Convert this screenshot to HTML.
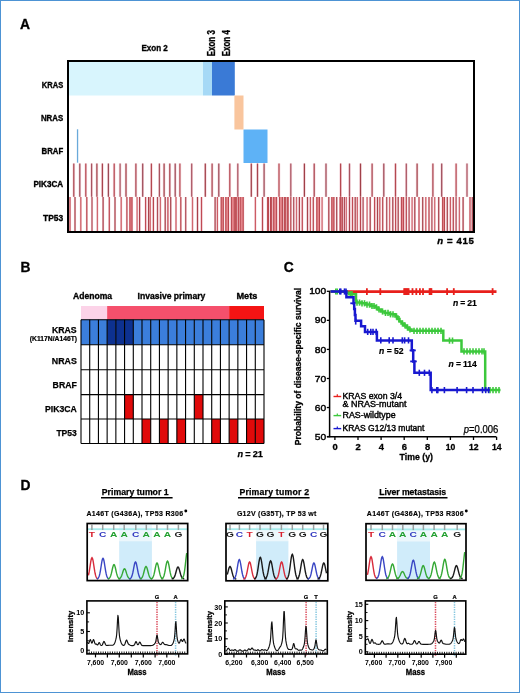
<!DOCTYPE html>
<html><head><meta charset="utf-8"><title>Figure</title>
<style>
html,body{margin:0;padding:0;background:#fff;}
body{width:520px;height:693px;overflow:hidden;}
.fig{position:relative;width:520px;height:693px;box-sizing:border-box;border:1px solid #4d93d4;background:#fff;}
svg{position:absolute;left:-1px;top:-1px;}
svg text{font-family:'Liberation Sans', Arial, sans-serif;}
</style></head>
<body><div class="fig">
<svg width="520" height="693" viewBox="0 0 520 693">
<text x="20" y="28.8" font-size="13.9" stroke="#000" stroke-width="0.3" font-weight="bold" >A</text>
<text x="141.4" y="50.6" font-size="9.8" stroke="#000" stroke-width="0.35" font-weight="bold" textLength="26.4" lengthAdjust="spacingAndGlyphs" >Exon 2</text>
<text transform="translate(214.5,56.3) rotate(-90)" x="0" y="0" font-size="10.2" font-weight="bold" stroke="#000" stroke-width="0.3" textLength="26.2" lengthAdjust="spacingAndGlyphs">Exon 3</text>
<text transform="translate(230.0,56.3) rotate(-90)" x="0" y="0" font-size="10.2" font-weight="bold" stroke="#000" stroke-width="0.3" textLength="26.2" lengthAdjust="spacingAndGlyphs">Exon 4</text>
<text x="41.8" y="88.2" font-size="9.2" stroke="#000" stroke-width="0.35" font-weight="bold" textLength="21.4" lengthAdjust="spacingAndGlyphs" >KRAS</text>
<text x="40.9" y="121" font-size="9.2" stroke="#000" stroke-width="0.35" font-weight="bold" textLength="22.3" lengthAdjust="spacingAndGlyphs" >NRAS</text>
<text x="41.6" y="153.7" font-size="9.2" stroke="#000" stroke-width="0.35" font-weight="bold" textLength="21.6" lengthAdjust="spacingAndGlyphs" >BRAF</text>
<text x="33.4" y="187.4" font-size="9.2" stroke="#000" stroke-width="0.35" font-weight="bold" textLength="29.8" lengthAdjust="spacingAndGlyphs" >PIK3CA</text>
<text x="43.1" y="220.7" font-size="9.2" stroke="#000" stroke-width="0.35" font-weight="bold" textLength="20.1" lengthAdjust="spacingAndGlyphs" >TP53</text>
<rect x="69.00" y="62.00" width="134.00" height="33.50" fill="#d8f5fd" />
<rect x="203.00" y="62.00" width="9.00" height="33.50" fill="#a6d9f6" />
<rect x="212.00" y="62.00" width="22.80" height="33.50" fill="#3a7ad6" />
<rect x="234.40" y="95.50" width="9.10" height="34.00" fill="#f9c59d" />
<rect x="243.50" y="129.50" width="24.00" height="33.50" fill="#5eb2f6" />
<rect x="76.90" y="129.30" width="1.30" height="33.40" fill="#6aaada" />
<rect x="72.50" y="163.50" width="2.60" height="33.30" fill="#f6d6dc" />
<rect x="78.50" y="163.50" width="2.60" height="33.30" fill="#f6d6dc" />
<rect x="84.50" y="163.50" width="2.60" height="33.30" fill="#f6d6dc" />
<rect x="90.30" y="163.50" width="2.60" height="33.30" fill="#f6d6dc" />
<rect x="95.60" y="163.50" width="2.60" height="33.30" fill="#f6d6dc" />
<rect x="101.10" y="163.50" width="2.60" height="33.30" fill="#f6d6dc" />
<rect x="107.10" y="163.50" width="2.60" height="33.30" fill="#f6d6dc" />
<rect x="112.90" y="163.50" width="2.60" height="33.30" fill="#f6d6dc" />
<rect x="118.80" y="163.50" width="2.60" height="33.30" fill="#f6d6dc" />
<rect x="124.70" y="163.50" width="2.60" height="33.30" fill="#f6d6dc" />
<rect x="134.60" y="163.50" width="2.60" height="33.30" fill="#f6d6dc" />
<rect x="141.40" y="163.50" width="2.60" height="33.30" fill="#f6d6dc" />
<rect x="150.10" y="163.50" width="2.60" height="33.30" fill="#f6d6dc" />
<rect x="158.10" y="163.50" width="2.60" height="33.30" fill="#f6d6dc" />
<rect x="162.80" y="163.50" width="2.60" height="33.30" fill="#f6d6dc" />
<rect x="168.50" y="163.50" width="2.60" height="33.30" fill="#f6d6dc" />
<rect x="173.90" y="163.50" width="2.60" height="33.30" fill="#f6d6dc" />
<rect x="178.60" y="163.50" width="2.60" height="33.30" fill="#f6d6dc" />
<rect x="190.40" y="163.50" width="2.60" height="33.30" fill="#f6d6dc" />
<rect x="204.00" y="163.50" width="2.60" height="33.30" fill="#f6d6dc" />
<rect x="210.80" y="163.50" width="2.60" height="33.30" fill="#f6d6dc" />
<rect x="217.50" y="163.50" width="2.60" height="33.30" fill="#f6d6dc" />
<rect x="228.50" y="163.50" width="2.60" height="33.30" fill="#f6d6dc" />
<rect x="236.50" y="163.50" width="2.60" height="33.30" fill="#f6d6dc" />
<rect x="250.00" y="163.50" width="2.60" height="33.30" fill="#f6d6dc" />
<rect x="256.20" y="163.50" width="2.60" height="33.30" fill="#f6d6dc" />
<rect x="262.80" y="163.50" width="2.60" height="33.30" fill="#f6d6dc" />
<rect x="277.70" y="163.50" width="2.60" height="33.30" fill="#f6d6dc" />
<rect x="289.50" y="163.50" width="2.60" height="33.30" fill="#f6d6dc" />
<rect x="303.10" y="163.50" width="2.60" height="33.30" fill="#f6d6dc" />
<rect x="312.90" y="163.50" width="2.60" height="33.30" fill="#f6d6dc" />
<rect x="324.70" y="163.50" width="2.60" height="33.30" fill="#f6d6dc" />
<rect x="339.30" y="163.50" width="2.60" height="33.30" fill="#f6d6dc" />
<rect x="348.20" y="163.50" width="2.60" height="33.30" fill="#f6d6dc" />
<rect x="359.20" y="163.50" width="2.60" height="33.30" fill="#f6d6dc" />
<rect x="370.80" y="163.50" width="2.60" height="33.30" fill="#f6d6dc" />
<rect x="382.50" y="163.50" width="2.60" height="33.30" fill="#f6d6dc" />
<rect x="394.20" y="163.50" width="2.60" height="33.30" fill="#f6d6dc" />
<rect x="405.00" y="163.50" width="2.60" height="33.30" fill="#f6d6dc" />
<rect x="415.80" y="163.50" width="2.60" height="33.30" fill="#f6d6dc" />
<rect x="431.60" y="163.50" width="2.60" height="33.30" fill="#f6d6dc" />
<rect x="440.40" y="163.50" width="2.60" height="33.30" fill="#f6d6dc" />
<rect x="454.80" y="163.50" width="2.60" height="33.30" fill="#f6d6dc" />
<rect x="465.70" y="163.50" width="2.60" height="33.30" fill="#f6d6dc" />
<rect x="73.20" y="163.50" width="1.20" height="33.30" fill="#a8444e" />
<rect x="79.20" y="163.50" width="1.20" height="33.30" fill="#9c4a56" />
<rect x="85.20" y="163.50" width="1.20" height="33.30" fill="#b44850" />
<rect x="91.00" y="163.50" width="1.20" height="33.30" fill="#a85460" />
<rect x="96.30" y="163.50" width="1.20" height="33.30" fill="#a04048" />
<rect x="101.80" y="163.50" width="1.20" height="33.30" fill="#a8444e" />
<rect x="107.80" y="163.50" width="1.20" height="33.30" fill="#9c4a56" />
<rect x="113.60" y="163.50" width="1.20" height="33.30" fill="#b44850" />
<rect x="119.50" y="163.50" width="1.20" height="33.30" fill="#a85460" />
<rect x="125.40" y="163.50" width="1.20" height="33.30" fill="#a04048" />
<rect x="135.30" y="163.50" width="1.20" height="33.30" fill="#a8444e" />
<rect x="142.10" y="163.50" width="1.20" height="33.30" fill="#9c4a56" />
<rect x="150.80" y="163.50" width="1.20" height="33.30" fill="#b44850" />
<rect x="158.80" y="163.50" width="1.20" height="33.30" fill="#a85460" />
<rect x="163.50" y="163.50" width="1.20" height="33.30" fill="#a04048" />
<rect x="169.20" y="163.50" width="1.20" height="33.30" fill="#a8444e" />
<rect x="174.60" y="163.50" width="1.20" height="33.30" fill="#9c4a56" />
<rect x="179.30" y="163.50" width="1.20" height="33.30" fill="#b44850" />
<rect x="191.10" y="163.50" width="1.20" height="33.30" fill="#a85460" />
<rect x="204.70" y="163.50" width="1.20" height="33.30" fill="#a04048" />
<rect x="211.50" y="163.50" width="1.20" height="33.30" fill="#a8444e" />
<rect x="218.20" y="163.50" width="1.20" height="33.30" fill="#9c4a56" />
<rect x="229.20" y="163.50" width="1.20" height="33.30" fill="#b44850" />
<rect x="237.20" y="163.50" width="1.20" height="33.30" fill="#a85460" />
<rect x="250.70" y="163.50" width="1.20" height="33.30" fill="#a04048" />
<rect x="256.90" y="163.50" width="1.20" height="33.30" fill="#a8444e" />
<rect x="263.50" y="163.50" width="1.20" height="33.30" fill="#9c4a56" />
<rect x="278.40" y="163.50" width="1.20" height="33.30" fill="#b44850" />
<rect x="290.20" y="163.50" width="1.20" height="33.30" fill="#a85460" />
<rect x="303.80" y="163.50" width="1.20" height="33.30" fill="#a04048" />
<rect x="313.60" y="163.50" width="1.20" height="33.30" fill="#a8444e" />
<rect x="325.40" y="163.50" width="1.20" height="33.30" fill="#9c4a56" />
<rect x="340.00" y="163.50" width="1.20" height="33.30" fill="#b44850" />
<rect x="348.90" y="163.50" width="1.20" height="33.30" fill="#a85460" />
<rect x="359.90" y="163.50" width="1.20" height="33.30" fill="#a04048" />
<rect x="371.50" y="163.50" width="1.20" height="33.30" fill="#a8444e" />
<rect x="383.20" y="163.50" width="1.20" height="33.30" fill="#9c4a56" />
<rect x="394.90" y="163.50" width="1.20" height="33.30" fill="#b44850" />
<rect x="405.70" y="163.50" width="1.20" height="33.30" fill="#a85460" />
<rect x="416.50" y="163.50" width="1.20" height="33.30" fill="#a04048" />
<rect x="432.30" y="163.50" width="1.20" height="33.30" fill="#a8444e" />
<rect x="441.10" y="163.50" width="1.20" height="33.30" fill="#9c4a56" />
<rect x="455.50" y="163.50" width="1.20" height="33.30" fill="#b44850" />
<rect x="466.40" y="163.50" width="1.20" height="33.30" fill="#a85460" />
<rect x="68.90" y="197.00" width="2.20" height="34.50" fill="#f6d6dc" />
<rect x="73.90" y="197.00" width="2.20" height="34.50" fill="#f6d6dc" />
<rect x="79.70" y="197.00" width="2.20" height="34.50" fill="#f6d6dc" />
<rect x="85.70" y="197.00" width="2.20" height="34.50" fill="#f6d6dc" />
<rect x="90.90" y="197.00" width="2.20" height="34.50" fill="#f6d6dc" />
<rect x="96.30" y="197.00" width="2.20" height="34.50" fill="#f6d6dc" />
<rect x="102.00" y="197.00" width="2.20" height="34.50" fill="#f6d6dc" />
<rect x="108.20" y="197.00" width="2.20" height="34.50" fill="#f6d6dc" />
<rect x="113.90" y="197.00" width="2.20" height="34.50" fill="#f6d6dc" />
<rect x="120.10" y="197.00" width="2.20" height="34.50" fill="#f6d6dc" />
<rect x="125.80" y="197.00" width="2.20" height="34.50" fill="#f6d6dc" />
<rect x="128.80" y="197.00" width="4.30" height="34.50" fill="#f6d6dc" />
<rect x="136.00" y="197.00" width="2.20" height="34.50" fill="#f6d6dc" />
<rect x="138.50" y="197.00" width="2.20" height="34.50" fill="#f6d6dc" />
<rect x="144.50" y="197.00" width="2.20" height="34.50" fill="#f6d6dc" />
<rect x="147.50" y="197.00" width="2.20" height="34.50" fill="#f6d6dc" />
<rect x="149.10" y="197.00" width="2.20" height="34.50" fill="#f6d6dc" />
<rect x="152.30" y="197.00" width="2.20" height="34.50" fill="#f6d6dc" />
<rect x="156.40" y="197.00" width="2.20" height="34.50" fill="#f6d6dc" />
<rect x="159.30" y="197.00" width="2.20" height="34.50" fill="#f6d6dc" />
<rect x="164.10" y="197.00" width="2.20" height="34.50" fill="#f6d6dc" />
<rect x="166.80" y="197.00" width="2.20" height="34.50" fill="#f6d6dc" />
<rect x="169.60" y="197.00" width="2.20" height="34.50" fill="#f6d6dc" />
<rect x="174.90" y="197.00" width="2.20" height="34.50" fill="#f6d6dc" />
<rect x="179.70" y="197.00" width="2.20" height="34.50" fill="#f6d6dc" />
<rect x="184.60" y="197.00" width="2.20" height="34.50" fill="#f6d6dc" />
<rect x="191.40" y="197.00" width="2.20" height="34.50" fill="#f6d6dc" />
<rect x="196.40" y="197.00" width="2.20" height="34.50" fill="#f6d6dc" />
<rect x="200.40" y="197.00" width="2.20" height="34.50" fill="#f6d6dc" />
<rect x="214.00" y="197.00" width="2.20" height="34.50" fill="#f6d6dc" />
<rect x="216.30" y="197.00" width="2.20" height="34.50" fill="#f6d6dc" />
<rect x="220.10" y="197.00" width="4.30" height="34.50" fill="#f6d6dc" />
<rect x="224.70" y="197.00" width="4.90" height="34.50" fill="#f6d6dc" />
<rect x="230.30" y="197.00" width="5.10" height="34.50" fill="#f6d6dc" />
<rect x="234.20" y="197.00" width="3.70" height="34.50" fill="#f6d6dc" />
<rect x="237.50" y="197.00" width="2.20" height="34.50" fill="#f6d6dc" />
<rect x="239.10" y="197.00" width="5.20" height="34.50" fill="#f6d6dc" />
<rect x="254.30" y="197.00" width="2.20" height="34.50" fill="#f6d6dc" />
<rect x="261.40" y="197.00" width="2.20" height="34.50" fill="#f6d6dc" />
<rect x="266.50" y="197.00" width="3.10" height="34.50" fill="#f6d6dc" />
<rect x="269.40" y="197.00" width="3.40" height="34.50" fill="#f6d6dc" />
<rect x="272.60" y="197.00" width="5.10" height="34.50" fill="#f6d6dc" />
<rect x="278.40" y="197.00" width="5.10" height="34.50" fill="#f6d6dc" />
<rect x="283.20" y="197.00" width="3.20" height="34.50" fill="#f6d6dc" />
<rect x="286.10" y="197.00" width="3.10" height="34.50" fill="#f6d6dc" />
<rect x="289.70" y="197.00" width="2.20" height="34.50" fill="#f6d6dc" />
<rect x="292.60" y="197.00" width="2.20" height="34.50" fill="#f6d6dc" />
<rect x="295.40" y="197.00" width="2.20" height="34.50" fill="#f6d6dc" />
<rect x="298.30" y="197.00" width="2.20" height="34.50" fill="#f6d6dc" />
<rect x="301.20" y="197.00" width="2.20" height="34.50" fill="#f6d6dc" />
<rect x="306.40" y="197.00" width="2.20" height="34.50" fill="#f6d6dc" />
<rect x="309.30" y="197.00" width="2.20" height="34.50" fill="#f6d6dc" />
<rect x="312.20" y="197.00" width="2.20" height="34.50" fill="#f6d6dc" />
<rect x="315.70" y="197.00" width="4.90" height="34.50" fill="#f6d6dc" />
<rect x="321.00" y="197.00" width="2.20" height="34.50" fill="#f6d6dc" />
<rect x="327.70" y="197.00" width="2.20" height="34.50" fill="#f6d6dc" />
<rect x="330.70" y="197.00" width="4.30" height="34.50" fill="#f6d6dc" />
<rect x="335.60" y="197.00" width="2.20" height="34.50" fill="#f6d6dc" />
<rect x="339.00" y="197.00" width="3.00" height="34.50" fill="#f6d6dc" />
<rect x="341.20" y="197.00" width="2.20" height="34.50" fill="#f6d6dc" />
<rect x="343.30" y="197.00" width="2.20" height="34.50" fill="#f6d6dc" />
<rect x="345.20" y="197.00" width="2.20" height="34.50" fill="#f6d6dc" />
<rect x="348.40" y="197.00" width="2.20" height="34.50" fill="#f6d6dc" />
<rect x="351.40" y="197.00" width="2.20" height="34.50" fill="#f6d6dc" />
<rect x="354.10" y="197.00" width="2.20" height="34.50" fill="#f6d6dc" />
<rect x="356.20" y="197.00" width="2.20" height="34.50" fill="#f6d6dc" />
<rect x="359.40" y="197.00" width="2.20" height="34.50" fill="#f6d6dc" />
<rect x="362.00" y="197.00" width="2.20" height="34.50" fill="#f6d6dc" />
<rect x="366.00" y="197.00" width="2.20" height="34.50" fill="#f6d6dc" />
<rect x="369.10" y="197.00" width="2.20" height="34.50" fill="#f6d6dc" />
<rect x="373.50" y="197.00" width="2.20" height="34.50" fill="#f6d6dc" />
<rect x="376.40" y="197.00" width="2.20" height="34.50" fill="#f6d6dc" />
<rect x="378.70" y="197.00" width="2.20" height="34.50" fill="#f6d6dc" />
<rect x="381.60" y="197.00" width="2.20" height="34.50" fill="#f6d6dc" />
<rect x="385.60" y="197.00" width="2.20" height="34.50" fill="#f6d6dc" />
<rect x="388.50" y="197.00" width="2.20" height="34.50" fill="#f6d6dc" />
<rect x="391.70" y="197.00" width="2.20" height="34.50" fill="#f6d6dc" />
<rect x="394.50" y="197.00" width="2.20" height="34.50" fill="#f6d6dc" />
<rect x="397.10" y="197.00" width="2.20" height="34.50" fill="#f6d6dc" />
<rect x="400.30" y="197.00" width="4.40" height="34.50" fill="#f6d6dc" />
<rect x="405.20" y="197.00" width="2.20" height="34.50" fill="#f6d6dc" />
<rect x="408.00" y="197.00" width="2.20" height="34.50" fill="#f6d6dc" />
<rect x="411.00" y="197.00" width="2.20" height="34.50" fill="#f6d6dc" />
<rect x="413.70" y="197.00" width="2.20" height="34.50" fill="#f6d6dc" />
<rect x="417.90" y="197.00" width="2.20" height="34.50" fill="#f6d6dc" />
<rect x="421.60" y="197.00" width="2.20" height="34.50" fill="#f6d6dc" />
<rect x="424.70" y="197.00" width="2.20" height="34.50" fill="#f6d6dc" />
<rect x="427.90" y="197.00" width="2.20" height="34.50" fill="#f6d6dc" />
<rect x="430.80" y="197.00" width="2.20" height="34.50" fill="#f6d6dc" />
<rect x="433.60" y="197.00" width="2.20" height="34.50" fill="#f6d6dc" />
<rect x="437.60" y="197.00" width="2.20" height="34.50" fill="#f6d6dc" />
<rect x="441.50" y="197.00" width="4.10" height="34.50" fill="#f6d6dc" />
<rect x="446.20" y="197.00" width="2.20" height="34.50" fill="#f6d6dc" />
<rect x="449.30" y="197.00" width="2.20" height="34.50" fill="#f6d6dc" />
<rect x="452.20" y="197.00" width="2.20" height="34.50" fill="#f6d6dc" />
<rect x="455.00" y="197.00" width="2.20" height="34.50" fill="#f6d6dc" />
<rect x="458.30" y="197.00" width="2.20" height="34.50" fill="#f6d6dc" />
<rect x="462.00" y="197.00" width="2.20" height="34.50" fill="#f6d6dc" />
<rect x="468.90" y="197.00" width="2.20" height="34.50" fill="#f6d6dc" />
<rect x="471.20" y="197.00" width="2.20" height="34.50" fill="#f6d6dc" />
<rect x="69.40" y="197.00" width="1.20" height="34.50" fill="#c04a54" />
<rect x="74.40" y="197.00" width="1.20" height="34.50" fill="#a8444c" />
<rect x="80.20" y="197.00" width="1.20" height="34.50" fill="#cc5c64" />
<rect x="86.20" y="197.00" width="1.20" height="34.50" fill="#b8464e" />
<rect x="91.40" y="197.00" width="1.20" height="34.50" fill="#b04e58" />
<rect x="96.80" y="197.00" width="1.20" height="34.50" fill="#d06870" />
<rect x="102.50" y="197.00" width="1.20" height="34.50" fill="#a8404a" />
<rect x="108.70" y="197.00" width="1.20" height="34.50" fill="#c04a54" />
<rect x="114.40" y="197.00" width="1.20" height="34.50" fill="#a8444c" />
<rect x="120.60" y="197.00" width="1.20" height="34.50" fill="#cc5c64" />
<rect x="126.30" y="197.00" width="1.20" height="34.50" fill="#b8464e" />
<rect x="129.50" y="197.00" width="2.90" height="34.50" fill="#e4868c" />
<rect x="129.40" y="197.00" width="1.00" height="34.50" fill="#b8464e" />
<rect x="131.50" y="197.00" width="1.00" height="34.50" fill="#b8464e" />
<rect x="136.50" y="197.00" width="1.20" height="34.50" fill="#d06870" />
<rect x="139.00" y="197.00" width="1.20" height="34.50" fill="#a8404a" />
<rect x="145.00" y="197.00" width="1.20" height="34.50" fill="#c04a54" />
<rect x="148.00" y="197.00" width="1.20" height="34.50" fill="#a8444c" />
<rect x="149.60" y="197.00" width="1.20" height="34.50" fill="#cc5c64" />
<rect x="152.80" y="197.00" width="1.20" height="34.50" fill="#b8464e" />
<rect x="156.90" y="197.00" width="1.20" height="34.50" fill="#b04e58" />
<rect x="159.80" y="197.00" width="1.20" height="34.50" fill="#d06870" />
<rect x="164.60" y="197.00" width="1.20" height="34.50" fill="#a8404a" />
<rect x="167.30" y="197.00" width="1.20" height="34.50" fill="#c04a54" />
<rect x="170.10" y="197.00" width="1.20" height="34.50" fill="#a8444c" />
<rect x="175.40" y="197.00" width="1.20" height="34.50" fill="#cc5c64" />
<rect x="180.20" y="197.00" width="1.20" height="34.50" fill="#b8464e" />
<rect x="185.10" y="197.00" width="1.20" height="34.50" fill="#b04e58" />
<rect x="191.90" y="197.00" width="1.20" height="34.50" fill="#d06870" />
<rect x="196.90" y="197.00" width="1.20" height="34.50" fill="#a8404a" />
<rect x="200.90" y="197.00" width="1.20" height="34.50" fill="#c04a54" />
<rect x="214.50" y="197.00" width="1.20" height="34.50" fill="#a8444c" />
<rect x="216.80" y="197.00" width="1.20" height="34.50" fill="#cc5c64" />
<rect x="220.80" y="197.00" width="2.90" height="34.50" fill="#e4868c" />
<rect x="220.70" y="197.00" width="1.00" height="34.50" fill="#b8464e" />
<rect x="222.80" y="197.00" width="1.00" height="34.50" fill="#b8464e" />
<rect x="225.40" y="197.00" width="3.50" height="34.50" fill="#e4868c" />
<rect x="225.30" y="197.00" width="1.00" height="34.50" fill="#b8464e" />
<rect x="228.00" y="197.00" width="1.00" height="34.50" fill="#b8464e" />
<rect x="231.00" y="197.00" width="3.70" height="34.50" fill="#e4868c" />
<rect x="230.90" y="197.00" width="1.00" height="34.50" fill="#b8464e" />
<rect x="233.80" y="197.00" width="1.00" height="34.50" fill="#b8464e" />
<rect x="234.90" y="197.00" width="2.30" height="34.50" fill="#e4868c" />
<rect x="234.80" y="197.00" width="1.00" height="34.50" fill="#b8464e" />
<rect x="236.30" y="197.00" width="1.00" height="34.50" fill="#b8464e" />
<rect x="238.00" y="197.00" width="1.20" height="34.50" fill="#c04a54" />
<rect x="239.80" y="197.00" width="3.80" height="34.50" fill="#e4868c" />
<rect x="239.70" y="197.00" width="1.00" height="34.50" fill="#b8464e" />
<rect x="242.70" y="197.00" width="1.00" height="34.50" fill="#b8464e" />
<rect x="254.80" y="197.00" width="1.20" height="34.50" fill="#cc5c64" />
<rect x="261.90" y="197.00" width="1.20" height="34.50" fill="#b8464e" />
<rect x="267.20" y="197.00" width="1.70" height="34.50" fill="#e4868c" />
<rect x="267.10" y="197.00" width="1.00" height="34.50" fill="#b8464e" />
<rect x="268.00" y="197.00" width="1.00" height="34.50" fill="#b8464e" />
<rect x="270.10" y="197.00" width="2.00" height="34.50" fill="#e4868c" />
<rect x="270.00" y="197.00" width="1.00" height="34.50" fill="#b8464e" />
<rect x="271.20" y="197.00" width="1.00" height="34.50" fill="#b8464e" />
<rect x="273.30" y="197.00" width="3.70" height="34.50" fill="#e4868c" />
<rect x="273.20" y="197.00" width="1.00" height="34.50" fill="#b8464e" />
<rect x="276.10" y="197.00" width="1.00" height="34.50" fill="#b8464e" />
<rect x="279.10" y="197.00" width="3.70" height="34.50" fill="#e4868c" />
<rect x="279.00" y="197.00" width="1.00" height="34.50" fill="#b8464e" />
<rect x="281.90" y="197.00" width="1.00" height="34.50" fill="#b8464e" />
<rect x="283.90" y="197.00" width="1.80" height="34.50" fill="#e4868c" />
<rect x="283.80" y="197.00" width="1.00" height="34.50" fill="#b8464e" />
<rect x="284.80" y="197.00" width="1.00" height="34.50" fill="#b8464e" />
<rect x="286.80" y="197.00" width="1.70" height="34.50" fill="#e4868c" />
<rect x="286.70" y="197.00" width="1.00" height="34.50" fill="#b8464e" />
<rect x="287.60" y="197.00" width="1.00" height="34.50" fill="#b8464e" />
<rect x="290.20" y="197.00" width="1.20" height="34.50" fill="#b8464e" />
<rect x="293.10" y="197.00" width="1.20" height="34.50" fill="#b04e58" />
<rect x="295.90" y="197.00" width="1.20" height="34.50" fill="#d06870" />
<rect x="298.80" y="197.00" width="1.20" height="34.50" fill="#a8404a" />
<rect x="301.70" y="197.00" width="1.20" height="34.50" fill="#c04a54" />
<rect x="306.90" y="197.00" width="1.20" height="34.50" fill="#a8444c" />
<rect x="309.80" y="197.00" width="1.20" height="34.50" fill="#cc5c64" />
<rect x="312.70" y="197.00" width="1.20" height="34.50" fill="#b8464e" />
<rect x="316.40" y="197.00" width="3.50" height="34.50" fill="#e4868c" />
<rect x="316.30" y="197.00" width="1.00" height="34.50" fill="#b8464e" />
<rect x="319.00" y="197.00" width="1.00" height="34.50" fill="#b8464e" />
<rect x="321.50" y="197.00" width="1.20" height="34.50" fill="#d06870" />
<rect x="328.20" y="197.00" width="1.20" height="34.50" fill="#a8404a" />
<rect x="331.40" y="197.00" width="2.90" height="34.50" fill="#e4868c" />
<rect x="331.30" y="197.00" width="1.00" height="34.50" fill="#b8464e" />
<rect x="333.40" y="197.00" width="1.00" height="34.50" fill="#b8464e" />
<rect x="336.10" y="197.00" width="1.20" height="34.50" fill="#a8444c" />
<rect x="339.70" y="197.00" width="1.60" height="34.50" fill="#e4868c" />
<rect x="339.60" y="197.00" width="1.00" height="34.50" fill="#b8464e" />
<rect x="340.40" y="197.00" width="1.00" height="34.50" fill="#b8464e" />
<rect x="341.70" y="197.00" width="1.20" height="34.50" fill="#b8464e" />
<rect x="343.80" y="197.00" width="1.20" height="34.50" fill="#b04e58" />
<rect x="345.70" y="197.00" width="1.20" height="34.50" fill="#d06870" />
<rect x="348.90" y="197.00" width="1.20" height="34.50" fill="#a8404a" />
<rect x="351.90" y="197.00" width="1.20" height="34.50" fill="#c04a54" />
<rect x="354.60" y="197.00" width="1.20" height="34.50" fill="#a8444c" />
<rect x="356.70" y="197.00" width="1.20" height="34.50" fill="#cc5c64" />
<rect x="359.90" y="197.00" width="1.20" height="34.50" fill="#b8464e" />
<rect x="362.50" y="197.00" width="1.20" height="34.50" fill="#b04e58" />
<rect x="366.50" y="197.00" width="1.20" height="34.50" fill="#d06870" />
<rect x="369.60" y="197.00" width="1.20" height="34.50" fill="#a8404a" />
<rect x="374.00" y="197.00" width="1.20" height="34.50" fill="#c04a54" />
<rect x="376.90" y="197.00" width="1.20" height="34.50" fill="#a8444c" />
<rect x="379.20" y="197.00" width="1.20" height="34.50" fill="#cc5c64" />
<rect x="382.10" y="197.00" width="1.20" height="34.50" fill="#b8464e" />
<rect x="386.10" y="197.00" width="1.20" height="34.50" fill="#b04e58" />
<rect x="389.00" y="197.00" width="1.20" height="34.50" fill="#d06870" />
<rect x="392.20" y="197.00" width="1.20" height="34.50" fill="#a8404a" />
<rect x="395.00" y="197.00" width="1.20" height="34.50" fill="#c04a54" />
<rect x="397.60" y="197.00" width="1.20" height="34.50" fill="#a8444c" />
<rect x="401.00" y="197.00" width="3.00" height="34.50" fill="#e4868c" />
<rect x="400.90" y="197.00" width="1.00" height="34.50" fill="#b8464e" />
<rect x="403.10" y="197.00" width="1.00" height="34.50" fill="#b8464e" />
<rect x="405.70" y="197.00" width="1.20" height="34.50" fill="#b8464e" />
<rect x="408.50" y="197.00" width="1.20" height="34.50" fill="#b04e58" />
<rect x="411.50" y="197.00" width="1.20" height="34.50" fill="#d06870" />
<rect x="414.20" y="197.00" width="1.20" height="34.50" fill="#a8404a" />
<rect x="418.40" y="197.00" width="1.20" height="34.50" fill="#c04a54" />
<rect x="422.10" y="197.00" width="1.20" height="34.50" fill="#a8444c" />
<rect x="425.20" y="197.00" width="1.20" height="34.50" fill="#cc5c64" />
<rect x="428.40" y="197.00" width="1.20" height="34.50" fill="#b8464e" />
<rect x="431.30" y="197.00" width="1.20" height="34.50" fill="#b04e58" />
<rect x="434.10" y="197.00" width="1.20" height="34.50" fill="#d06870" />
<rect x="438.10" y="197.00" width="1.20" height="34.50" fill="#a8404a" />
<rect x="442.20" y="197.00" width="2.70" height="34.50" fill="#e4868c" />
<rect x="442.10" y="197.00" width="1.00" height="34.50" fill="#b8464e" />
<rect x="444.00" y="197.00" width="1.00" height="34.50" fill="#b8464e" />
<rect x="446.70" y="197.00" width="1.20" height="34.50" fill="#a8444c" />
<rect x="449.80" y="197.00" width="1.20" height="34.50" fill="#cc5c64" />
<rect x="452.70" y="197.00" width="1.20" height="34.50" fill="#b8464e" />
<rect x="455.50" y="197.00" width="1.20" height="34.50" fill="#b04e58" />
<rect x="458.80" y="197.00" width="1.20" height="34.50" fill="#d06870" />
<rect x="462.50" y="197.00" width="1.20" height="34.50" fill="#a8404a" />
<rect x="469.40" y="197.00" width="1.20" height="34.50" fill="#c04a54" />
<rect x="471.70" y="197.00" width="1.20" height="34.50" fill="#a8444c" />
<rect x="68" y="61" width="406" height="171" fill="none" stroke="#000" stroke-width="2"/>
<text x="437.2" y="244.1" font-size="9.6" font-weight="bold" stroke="#000" stroke-width="0.35" textLength="36.6" lengthAdjust="spacing"><tspan font-style="italic">n</tspan> = 415</text>
<text x="20.6" y="271.7" font-size="13.8" stroke="#000" stroke-width="0.3" font-weight="bold" >B</text>
<text x="73.0" y="299.1" font-size="9.8" stroke="#000" stroke-width="0.35" font-weight="bold" textLength="39.0" lengthAdjust="spacingAndGlyphs" >Adenoma</text>
<text x="137.5" y="299.1" font-size="9.8" stroke="#000" stroke-width="0.35" font-weight="bold" textLength="67.9" lengthAdjust="spacingAndGlyphs" >Invasive primary</text>
<text x="236.4" y="299.1" font-size="9.8" stroke="#000" stroke-width="0.35" font-weight="bold" textLength="21.0" lengthAdjust="spacingAndGlyphs" >Mets</text>
<rect x="81.00" y="306.00" width="26.14" height="13.70" fill="#fcd3e8" />
<rect x="107.14" y="306.00" width="122.00" height="13.70" fill="#f5506c" />
<rect x="229.14" y="306.00" width="34.86" height="13.70" fill="#f41414" />
<rect x="81.00" y="319.70" width="8.71" height="25.00" fill="#3b7edb" />
<rect x="89.71" y="319.70" width="8.71" height="25.00" fill="#3b7edb" />
<rect x="98.43" y="319.70" width="8.71" height="25.00" fill="#3b7edb" />
<rect x="107.14" y="319.70" width="8.71" height="25.00" fill="#0d3190" />
<rect x="115.86" y="319.70" width="8.71" height="25.00" fill="#0d3190" />
<rect x="124.57" y="319.70" width="8.71" height="25.00" fill="#0d3190" />
<rect x="133.29" y="319.70" width="8.71" height="25.00" fill="#3b7edb" />
<rect x="142.00" y="319.70" width="8.71" height="25.00" fill="#3b7edb" />
<rect x="150.71" y="319.70" width="8.71" height="25.00" fill="#3b7edb" />
<rect x="159.43" y="319.70" width="8.71" height="25.00" fill="#3b7edb" />
<rect x="168.14" y="319.70" width="8.71" height="25.00" fill="#3b7edb" />
<rect x="176.86" y="319.70" width="8.71" height="25.00" fill="#3b7edb" />
<rect x="185.57" y="319.70" width="8.71" height="25.00" fill="#3b7edb" />
<rect x="194.29" y="319.70" width="8.71" height="25.00" fill="#3b7edb" />
<rect x="203.00" y="319.70" width="8.71" height="25.00" fill="#3b7edb" />
<rect x="211.71" y="319.70" width="8.71" height="25.00" fill="#3b7edb" />
<rect x="220.43" y="319.70" width="8.71" height="25.00" fill="#3b7edb" />
<rect x="229.14" y="319.70" width="8.71" height="25.00" fill="#3b7edb" />
<rect x="237.86" y="319.70" width="8.71" height="25.00" fill="#3b7edb" />
<rect x="246.57" y="319.70" width="8.71" height="25.00" fill="#3b7edb" />
<rect x="255.29" y="319.70" width="8.71" height="25.00" fill="#3b7edb" />
<rect x="124.57" y="394.60" width="8.71" height="24.40" fill="#e00a0a" />
<rect x="194.29" y="394.60" width="8.71" height="24.40" fill="#e00a0a" />
<rect x="142.00" y="419.00" width="8.71" height="24.50" fill="#e00a0a" />
<rect x="159.43" y="419.00" width="8.71" height="24.50" fill="#e00a0a" />
<rect x="176.86" y="419.00" width="8.71" height="24.50" fill="#e00a0a" />
<rect x="211.71" y="419.00" width="8.71" height="24.50" fill="#e00a0a" />
<rect x="229.14" y="419.00" width="8.71" height="24.50" fill="#e00a0a" />
<rect x="246.57" y="419.00" width="8.71" height="24.50" fill="#e00a0a" />
<rect x="255.29" y="419.00" width="8.71" height="24.50" fill="#e00a0a" />
<line x1="81.00" y1="319.70" x2="264.00" y2="319.70" stroke="#000" stroke-width="1.1" />
<line x1="81.00" y1="344.70" x2="264.00" y2="344.70" stroke="#000" stroke-width="1.1" />
<line x1="81.00" y1="369.70" x2="264.00" y2="369.70" stroke="#000" stroke-width="1.1" />
<line x1="81.00" y1="394.60" x2="264.00" y2="394.60" stroke="#000" stroke-width="1.1" />
<line x1="81.00" y1="419.00" x2="264.00" y2="419.00" stroke="#000" stroke-width="1.1" />
<line x1="81.00" y1="443.50" x2="264.00" y2="443.50" stroke="#000" stroke-width="1.1" />
<line x1="81.00" y1="319.70" x2="81.00" y2="443.50" stroke="#000" stroke-width="1.1" />
<line x1="89.71" y1="319.70" x2="89.71" y2="443.50" stroke="#000" stroke-width="1.1" />
<line x1="98.43" y1="319.70" x2="98.43" y2="443.50" stroke="#000" stroke-width="1.1" />
<line x1="107.14" y1="319.70" x2="107.14" y2="443.50" stroke="#000" stroke-width="1.1" />
<line x1="115.86" y1="319.70" x2="115.86" y2="443.50" stroke="#000" stroke-width="1.1" />
<line x1="124.57" y1="319.70" x2="124.57" y2="443.50" stroke="#000" stroke-width="1.1" />
<line x1="133.29" y1="319.70" x2="133.29" y2="443.50" stroke="#000" stroke-width="1.1" />
<line x1="142.00" y1="319.70" x2="142.00" y2="443.50" stroke="#000" stroke-width="1.1" />
<line x1="150.71" y1="319.70" x2="150.71" y2="443.50" stroke="#000" stroke-width="1.1" />
<line x1="159.43" y1="319.70" x2="159.43" y2="443.50" stroke="#000" stroke-width="1.1" />
<line x1="168.14" y1="319.70" x2="168.14" y2="443.50" stroke="#000" stroke-width="1.1" />
<line x1="176.86" y1="319.70" x2="176.86" y2="443.50" stroke="#000" stroke-width="1.1" />
<line x1="185.57" y1="319.70" x2="185.57" y2="443.50" stroke="#000" stroke-width="1.1" />
<line x1="194.29" y1="319.70" x2="194.29" y2="443.50" stroke="#000" stroke-width="1.1" />
<line x1="203.00" y1="319.70" x2="203.00" y2="443.50" stroke="#000" stroke-width="1.1" />
<line x1="211.71" y1="319.70" x2="211.71" y2="443.50" stroke="#000" stroke-width="1.1" />
<line x1="220.43" y1="319.70" x2="220.43" y2="443.50" stroke="#000" stroke-width="1.1" />
<line x1="229.14" y1="319.70" x2="229.14" y2="443.50" stroke="#000" stroke-width="1.1" />
<line x1="237.86" y1="319.70" x2="237.86" y2="443.50" stroke="#000" stroke-width="1.1" />
<line x1="246.57" y1="319.70" x2="246.57" y2="443.50" stroke="#000" stroke-width="1.1" />
<line x1="255.29" y1="319.70" x2="255.29" y2="443.50" stroke="#000" stroke-width="1.1" />
<line x1="264.00" y1="319.70" x2="264.00" y2="443.50" stroke="#000" stroke-width="1.1" />
<text x="51.9" y="333.1" font-size="9" stroke="#000" stroke-width="0.25" font-weight="bold" textLength="24.7" lengthAdjust="spacingAndGlyphs" >KRAS</text>
<text x="29.8" y="340.6" font-size="6.6" stroke="#000" stroke-width="0.2" font-weight="bold" textLength="47.3" lengthAdjust="spacingAndGlyphs" >(K117N/A146T)</text>
<text x="51.8" y="363.9" font-size="9" stroke="#000" stroke-width="0.25" font-weight="bold" textLength="25.0" lengthAdjust="spacingAndGlyphs" >NRAS</text>
<text x="52.6" y="387.7" font-size="9" stroke="#000" stroke-width="0.25" font-weight="bold" textLength="24.2" lengthAdjust="spacingAndGlyphs" >BRAF</text>
<text x="45.0" y="412.0" font-size="9" stroke="#000" stroke-width="0.25" font-weight="bold" textLength="31.8" lengthAdjust="spacingAndGlyphs" >PIK3CA</text>
<text x="56.4" y="435.9" font-size="9" stroke="#000" stroke-width="0.25" font-weight="bold" textLength="20.4" lengthAdjust="spacingAndGlyphs" >TP53</text>
<text x="237.6" y="456.7" font-size="9.2" font-weight="bold" stroke="#000" stroke-width="0.25" textLength="25.3" lengthAdjust="spacing"><tspan font-style="italic">n</tspan> = 21</text>
<text x="283.7" y="272.3" font-size="13.8" stroke="#000" stroke-width="0.3" font-weight="bold" >C</text>
<text transform="translate(300.8,445.2) rotate(-90)" x="0" y="0" font-size="9.4" font-weight="bold" stroke="#000" stroke-width="0.3" textLength="157.4" lengthAdjust="spacingAndGlyphs">Probability of disease-specific survival</text>
<line x1="329.60" y1="290.80" x2="329.60" y2="437.20" stroke="#000" stroke-width="1.5" />
<line x1="327.00" y1="436.80" x2="496.40" y2="436.80" stroke="#000" stroke-width="1.5" />
<line x1="326.80" y1="291.30" x2="329.60" y2="291.30" stroke="#000" stroke-width="1.3" />
<text x="326.2" y="294.40000000000003" font-size="8.9" stroke="#000" stroke-width="0.4" text-anchor="end" textLength="17.0" lengthAdjust="spacingAndGlyphs" >100</text>
<line x1="326.80" y1="320.36" x2="329.60" y2="320.36" stroke="#000" stroke-width="1.3" />
<text x="326.2" y="323.46000000000004" font-size="8.9" stroke="#000" stroke-width="0.4" text-anchor="end" textLength="11.4" lengthAdjust="spacingAndGlyphs" >90</text>
<line x1="326.80" y1="349.42" x2="329.60" y2="349.42" stroke="#000" stroke-width="1.3" />
<text x="326.2" y="352.52000000000004" font-size="8.9" stroke="#000" stroke-width="0.4" text-anchor="end" textLength="11.4" lengthAdjust="spacingAndGlyphs" >80</text>
<line x1="326.80" y1="378.48" x2="329.60" y2="378.48" stroke="#000" stroke-width="1.3" />
<text x="326.2" y="381.58000000000004" font-size="8.9" stroke="#000" stroke-width="0.4" text-anchor="end" textLength="11.4" lengthAdjust="spacingAndGlyphs" >70</text>
<line x1="326.80" y1="407.54" x2="329.60" y2="407.54" stroke="#000" stroke-width="1.3" />
<text x="326.2" y="410.64000000000004" font-size="8.9" stroke="#000" stroke-width="0.4" text-anchor="end" textLength="11.4" lengthAdjust="spacingAndGlyphs" >60</text>
<line x1="326.80" y1="436.60" x2="329.60" y2="436.60" stroke="#000" stroke-width="1.3" />
<text x="326.2" y="439.70000000000005" font-size="8.9" stroke="#000" stroke-width="0.4" text-anchor="end" textLength="11.4" lengthAdjust="spacingAndGlyphs" >50</text>
<line x1="334.90" y1="436.80" x2="334.90" y2="440.00" stroke="#000" stroke-width="1.3" />
<text x="335.09999999999997" y="450.4" font-size="9.4" stroke="#000" stroke-width="0.3" font-weight="bold" text-anchor="middle" >0</text>
<line x1="358.00" y1="436.80" x2="358.00" y2="440.00" stroke="#000" stroke-width="1.3" />
<text x="358.2" y="450.4" font-size="9.4" stroke="#000" stroke-width="0.3" font-weight="bold" text-anchor="middle" >2</text>
<line x1="381.10" y1="436.80" x2="381.10" y2="440.00" stroke="#000" stroke-width="1.3" />
<text x="381.29999999999995" y="450.4" font-size="9.4" stroke="#000" stroke-width="0.3" font-weight="bold" text-anchor="middle" >4</text>
<line x1="404.20" y1="436.80" x2="404.20" y2="440.00" stroke="#000" stroke-width="1.3" />
<text x="404.4" y="450.4" font-size="9.4" stroke="#000" stroke-width="0.3" font-weight="bold" text-anchor="middle" >6</text>
<line x1="427.30" y1="436.80" x2="427.30" y2="440.00" stroke="#000" stroke-width="1.3" />
<text x="427.49999999999994" y="450.4" font-size="9.4" stroke="#000" stroke-width="0.3" font-weight="bold" text-anchor="middle" >8</text>
<line x1="450.40" y1="436.80" x2="450.40" y2="440.00" stroke="#000" stroke-width="1.3" />
<text x="450.59999999999997" y="450.4" font-size="9.4" stroke="#000" stroke-width="0.3" font-weight="bold" text-anchor="middle" textLength="9.6" lengthAdjust="spacingAndGlyphs" >10</text>
<line x1="473.50" y1="436.80" x2="473.50" y2="440.00" stroke="#000" stroke-width="1.3" />
<text x="473.7" y="450.4" font-size="9.4" stroke="#000" stroke-width="0.3" font-weight="bold" text-anchor="middle" textLength="9.6" lengthAdjust="spacingAndGlyphs" >12</text>
<line x1="496.60" y1="436.80" x2="496.60" y2="440.00" stroke="#000" stroke-width="1.3" />
<text x="496.8" y="450.4" font-size="9.4" stroke="#000" stroke-width="0.3" font-weight="bold" text-anchor="middle" textLength="9.6" lengthAdjust="spacingAndGlyphs" >14</text>
<text x="399.6" y="459.6" font-size="9.3" stroke="#000" stroke-width="0.3" font-weight="bold" textLength="33.3" lengthAdjust="spacingAndGlyphs" >Time (y)</text>
<path d="M330.5,291.6 L496.5,291.6" fill="none" stroke="#e8201c" stroke-width="2.7" stroke-linejoin="miter"/>
<line x1="366.90" y1="288.20" x2="366.90" y2="295.00" stroke="#e8201c" stroke-width="1.8" />
<line x1="380.30" y1="288.20" x2="380.30" y2="295.00" stroke="#e8201c" stroke-width="1.8" />
<line x1="404.20" y1="288.20" x2="404.20" y2="295.00" stroke="#e8201c" stroke-width="1.8" />
<line x1="405.30" y1="288.20" x2="405.30" y2="295.00" stroke="#e8201c" stroke-width="1.8" />
<line x1="406.40" y1="288.20" x2="406.40" y2="295.00" stroke="#e8201c" stroke-width="1.8" />
<line x1="407.50" y1="288.20" x2="407.50" y2="295.00" stroke="#e8201c" stroke-width="1.8" />
<line x1="408.60" y1="288.20" x2="408.60" y2="295.00" stroke="#e8201c" stroke-width="1.8" />
<line x1="412.50" y1="288.20" x2="412.50" y2="295.00" stroke="#e8201c" stroke-width="1.8" />
<line x1="416.30" y1="288.20" x2="416.30" y2="295.00" stroke="#e8201c" stroke-width="1.8" />
<line x1="419.90" y1="288.20" x2="419.90" y2="295.00" stroke="#e8201c" stroke-width="1.8" />
<line x1="423.00" y1="288.20" x2="423.00" y2="295.00" stroke="#e8201c" stroke-width="1.8" />
<line x1="429.60" y1="288.20" x2="429.60" y2="295.00" stroke="#e8201c" stroke-width="1.8" />
<line x1="430.60" y1="288.20" x2="430.60" y2="295.00" stroke="#e8201c" stroke-width="1.8" />
<line x1="431.40" y1="288.20" x2="431.40" y2="295.00" stroke="#e8201c" stroke-width="1.8" />
<line x1="447.10" y1="288.20" x2="447.10" y2="295.00" stroke="#e8201c" stroke-width="1.8" />
<line x1="453.80" y1="288.20" x2="453.80" y2="295.00" stroke="#e8201c" stroke-width="1.8" />
<line x1="492.60" y1="288.20" x2="492.60" y2="295.00" stroke="#e8201c" stroke-width="1.8" />
<path d="M330.5,291.5 L346.5,291.5 L346.5,292.8 L349.0,292.8 L349.0,294.2 L356.0,294.2 L356.0,302.6 L361.5,302.6 L361.5,303.3 L366.0,303.3 L366.0,304.6 L371.0,304.6 L371.0,306.0 L375.4,306.0 L375.4,307.4 L378.0,307.4 L378.0,309.5 L381.0,309.5 L381.0,311.5 L384.6,311.5 L384.6,312.9 L390.0,312.9 L390.0,314.3 L395.4,314.3 L395.4,316.5 L397.5,316.5 L397.5,319.0 L399.5,319.0 L399.5,321.5 L401.5,321.5 L401.5,323.5 L404.0,323.5 L404.0,325.5 L406.5,325.5 L406.5,327.5 L408.7,327.5 L408.7,329.5 L411.5,329.5 L411.5,330.8 L443.3,330.8 L443.3,340.6 L461.5,340.6 L461.5,351.4 L485.2,351.4 L485.2,390.1 L500.5,390.1" fill="none" stroke="#3cc83c" stroke-width="2.5" stroke-linejoin="miter"/>
<line x1="335.80" y1="288.40" x2="335.80" y2="294.60" stroke="#3cc83c" stroke-width="1.6" />
<line x1="337.20" y1="288.40" x2="337.20" y2="294.60" stroke="#3cc83c" stroke-width="1.6" />
<line x1="350.50" y1="291.10" x2="350.50" y2="297.30" stroke="#3cc83c" stroke-width="1.6" />
<line x1="352.00" y1="291.10" x2="352.00" y2="297.30" stroke="#3cc83c" stroke-width="1.6" />
<line x1="357.00" y1="299.50" x2="357.00" y2="305.70" stroke="#3cc83c" stroke-width="1.6" />
<line x1="359.50" y1="299.50" x2="359.50" y2="305.70" stroke="#3cc83c" stroke-width="1.6" />
<line x1="362.00" y1="300.20" x2="362.00" y2="306.40" stroke="#3cc83c" stroke-width="1.6" />
<line x1="364.50" y1="300.20" x2="364.50" y2="306.40" stroke="#3cc83c" stroke-width="1.6" />
<line x1="367.00" y1="301.50" x2="367.00" y2="307.70" stroke="#3cc83c" stroke-width="1.6" />
<line x1="369.50" y1="301.50" x2="369.50" y2="307.70" stroke="#3cc83c" stroke-width="1.6" />
<line x1="372.00" y1="302.90" x2="372.00" y2="309.10" stroke="#3cc83c" stroke-width="1.6" />
<line x1="374.00" y1="302.90" x2="374.00" y2="309.10" stroke="#3cc83c" stroke-width="1.6" />
<line x1="376.50" y1="304.30" x2="376.50" y2="310.50" stroke="#3cc83c" stroke-width="1.6" />
<line x1="379.00" y1="306.40" x2="379.00" y2="312.60" stroke="#3cc83c" stroke-width="1.6" />
<line x1="382.50" y1="308.40" x2="382.50" y2="314.60" stroke="#3cc83c" stroke-width="1.6" />
<line x1="385.50" y1="309.80" x2="385.50" y2="316.00" stroke="#3cc83c" stroke-width="1.6" />
<line x1="388.00" y1="309.80" x2="388.00" y2="316.00" stroke="#3cc83c" stroke-width="1.6" />
<line x1="390.50" y1="311.20" x2="390.50" y2="317.40" stroke="#3cc83c" stroke-width="1.6" />
<line x1="393.00" y1="311.20" x2="393.00" y2="317.40" stroke="#3cc83c" stroke-width="1.6" />
<line x1="396.50" y1="313.40" x2="396.50" y2="319.60" stroke="#3cc83c" stroke-width="1.6" />
<line x1="399.00" y1="315.90" x2="399.00" y2="322.10" stroke="#3cc83c" stroke-width="1.6" />
<line x1="402.50" y1="320.40" x2="402.50" y2="326.60" stroke="#3cc83c" stroke-width="1.6" />
<line x1="405.00" y1="322.40" x2="405.00" y2="328.60" stroke="#3cc83c" stroke-width="1.6" />
<line x1="407.50" y1="324.40" x2="407.50" y2="330.60" stroke="#3cc83c" stroke-width="1.6" />
<line x1="410.00" y1="326.40" x2="410.00" y2="332.60" stroke="#3cc83c" stroke-width="1.6" />
<line x1="414.00" y1="327.70" x2="414.00" y2="333.90" stroke="#3cc83c" stroke-width="1.6" />
<line x1="417.00" y1="327.70" x2="417.00" y2="333.90" stroke="#3cc83c" stroke-width="1.6" />
<line x1="420.00" y1="327.70" x2="420.00" y2="333.90" stroke="#3cc83c" stroke-width="1.6" />
<line x1="423.00" y1="327.70" x2="423.00" y2="333.90" stroke="#3cc83c" stroke-width="1.6" />
<line x1="426.00" y1="327.70" x2="426.00" y2="333.90" stroke="#3cc83c" stroke-width="1.6" />
<line x1="429.00" y1="327.70" x2="429.00" y2="333.90" stroke="#3cc83c" stroke-width="1.6" />
<line x1="432.00" y1="327.70" x2="432.00" y2="333.90" stroke="#3cc83c" stroke-width="1.6" />
<line x1="435.00" y1="327.70" x2="435.00" y2="333.90" stroke="#3cc83c" stroke-width="1.6" />
<line x1="438.00" y1="327.70" x2="438.00" y2="333.90" stroke="#3cc83c" stroke-width="1.6" />
<line x1="441.00" y1="327.70" x2="441.00" y2="333.90" stroke="#3cc83c" stroke-width="1.6" />
<line x1="449.50" y1="337.50" x2="449.50" y2="343.70" stroke="#3cc83c" stroke-width="1.6" />
<line x1="452.50" y1="337.50" x2="452.50" y2="343.70" stroke="#3cc83c" stroke-width="1.6" />
<line x1="464.00" y1="348.30" x2="464.00" y2="354.50" stroke="#3cc83c" stroke-width="1.6" />
<line x1="467.00" y1="348.30" x2="467.00" y2="354.50" stroke="#3cc83c" stroke-width="1.6" />
<line x1="470.00" y1="348.30" x2="470.00" y2="354.50" stroke="#3cc83c" stroke-width="1.6" />
<line x1="473.00" y1="348.30" x2="473.00" y2="354.50" stroke="#3cc83c" stroke-width="1.6" />
<line x1="476.00" y1="348.30" x2="476.00" y2="354.50" stroke="#3cc83c" stroke-width="1.6" />
<line x1="479.00" y1="348.30" x2="479.00" y2="354.50" stroke="#3cc83c" stroke-width="1.6" />
<line x1="482.00" y1="348.30" x2="482.00" y2="354.50" stroke="#3cc83c" stroke-width="1.6" />
<line x1="484.00" y1="348.30" x2="484.00" y2="354.50" stroke="#3cc83c" stroke-width="1.6" />
<line x1="490.00" y1="387.00" x2="490.00" y2="393.20" stroke="#3cc83c" stroke-width="1.6" />
<line x1="493.00" y1="387.00" x2="493.00" y2="393.20" stroke="#3cc83c" stroke-width="1.6" />
<line x1="496.00" y1="387.00" x2="496.00" y2="393.20" stroke="#3cc83c" stroke-width="1.6" />
<line x1="499.00" y1="387.00" x2="499.00" y2="393.20" stroke="#3cc83c" stroke-width="1.6" />
<path d="M330.5,291.5 L346.4,291.5 L346.4,297.3 L353.5,297.3 L353.5,303.3 L354.2,303.3 L354.2,309.0 L354.9,309.0 L354.9,315.0 L355.5,315.0 L355.5,320.7 L361.1,320.7 L361.1,326.2 L365.0,326.2 L365.0,331.9 L376.9,331.9 L376.9,340.4 L411.8,340.4 L411.8,350.2 L413.2,350.2 L413.2,361.5 L414.4,361.5 L414.4,372.8 L430.7,372.8 L430.7,390.1 L489.9,390.1" fill="none" stroke="#1818d0" stroke-width="2.5" stroke-linejoin="miter"/>
<line x1="339.80" y1="288.40" x2="339.80" y2="294.60" stroke="#1818d0" stroke-width="1.6" />
<line x1="340.80" y1="288.40" x2="340.80" y2="294.60" stroke="#1818d0" stroke-width="1.6" />
<line x1="344.50" y1="288.40" x2="344.50" y2="294.60" stroke="#1818d0" stroke-width="1.6" />
<line x1="346.00" y1="288.40" x2="346.00" y2="294.60" stroke="#1818d0" stroke-width="1.6" />
<line x1="355.70" y1="318.40" x2="355.70" y2="324.60" stroke="#1818d0" stroke-width="1.6" />
<line x1="367.70" y1="328.80" x2="367.70" y2="335.00" stroke="#1818d0" stroke-width="1.6" />
<line x1="370.80" y1="328.80" x2="370.80" y2="335.00" stroke="#1818d0" stroke-width="1.6" />
<line x1="373.00" y1="328.80" x2="373.00" y2="335.00" stroke="#1818d0" stroke-width="1.6" />
<line x1="376.20" y1="328.80" x2="376.20" y2="335.00" stroke="#1818d0" stroke-width="1.6" />
<line x1="380.80" y1="337.30" x2="380.80" y2="343.50" stroke="#1818d0" stroke-width="1.6" />
<line x1="389.20" y1="337.30" x2="389.20" y2="343.50" stroke="#1818d0" stroke-width="1.6" />
<line x1="393.00" y1="337.30" x2="393.00" y2="343.50" stroke="#1818d0" stroke-width="1.6" />
<line x1="402.30" y1="337.30" x2="402.30" y2="343.50" stroke="#1818d0" stroke-width="1.6" />
<line x1="404.60" y1="337.30" x2="404.60" y2="343.50" stroke="#1818d0" stroke-width="1.6" />
<line x1="408.50" y1="337.30" x2="408.50" y2="343.50" stroke="#1818d0" stroke-width="1.6" />
<line x1="419.30" y1="369.70" x2="419.30" y2="375.90" stroke="#1818d0" stroke-width="1.6" />
<line x1="424.50" y1="369.70" x2="424.50" y2="375.90" stroke="#1818d0" stroke-width="1.6" />
<line x1="429.30" y1="369.70" x2="429.30" y2="375.90" stroke="#1818d0" stroke-width="1.6" />
<line x1="431.90" y1="387.00" x2="431.90" y2="393.20" stroke="#1818d0" stroke-width="1.6" />
<line x1="436.80" y1="387.00" x2="436.80" y2="393.20" stroke="#1818d0" stroke-width="1.6" />
<line x1="437.80" y1="387.00" x2="437.80" y2="393.20" stroke="#1818d0" stroke-width="1.6" />
<line x1="444.40" y1="387.00" x2="444.40" y2="393.20" stroke="#1818d0" stroke-width="1.6" />
<line x1="457.10" y1="387.00" x2="457.10" y2="393.20" stroke="#1818d0" stroke-width="1.6" />
<line x1="466.60" y1="387.00" x2="466.60" y2="393.20" stroke="#1818d0" stroke-width="1.6" />
<line x1="473.00" y1="387.00" x2="473.00" y2="393.20" stroke="#1818d0" stroke-width="1.6" />
<line x1="482.50" y1="387.00" x2="482.50" y2="393.20" stroke="#1818d0" stroke-width="1.6" />
<line x1="485.70" y1="387.00" x2="485.70" y2="393.20" stroke="#1818d0" stroke-width="1.6" />
<line x1="488.60" y1="387.00" x2="488.60" y2="393.20" stroke="#1818d0" stroke-width="1.6" />
<line x1="409.60" y1="350.40" x2="415.80" y2="350.40" stroke="#1818d0" stroke-width="1.8" />
<line x1="350.30" y1="303.30" x2="354.00" y2="303.30" stroke="#1818d0" stroke-width="1.8" />
<line x1="410.20" y1="361.40" x2="416.80" y2="361.40" stroke="#1818d0" stroke-width="1.8" />
<line x1="333.50" y1="396.50" x2="341.20" y2="396.50" stroke="#e8201c" stroke-width="1.4" />
<line x1="337.30" y1="394.30" x2="337.30" y2="396.50" stroke="#e8201c" stroke-width="1.2" />
<line x1="333.50" y1="415.60" x2="341.20" y2="415.60" stroke="#3cc83c" stroke-width="1.4" />
<line x1="337.30" y1="413.40" x2="337.30" y2="415.60" stroke="#3cc83c" stroke-width="1.2" />
<line x1="333.50" y1="428.60" x2="341.20" y2="428.60" stroke="#1818d0" stroke-width="1.4" />
<line x1="337.30" y1="426.40" x2="337.30" y2="428.60" stroke="#1818d0" stroke-width="1.2" />
<text x="342.5" y="398.5" font-size="8.7" stroke="#000" stroke-width="0.4" textLength="59.6" lengthAdjust="spacingAndGlyphs" >KRAS exon 3/4</text>
<text x="342.6" y="406.5" font-size="8.7" stroke="#000" stroke-width="0.4" textLength="63.8" lengthAdjust="spacingAndGlyphs" >&amp; NRAS-mutant</text>
<text x="342.5" y="418.3" font-size="8.7" stroke="#000" stroke-width="0.4" textLength="53.1" lengthAdjust="spacingAndGlyphs" >RAS-wildtype</text>
<text x="342.5" y="431.0" font-size="8.7" stroke="#000" stroke-width="0.4" textLength="81.9" lengthAdjust="spacingAndGlyphs" >KRAS G12/13 mutant</text>
<text x="452.9" y="306.1" font-size="8.6" font-weight="bold" stroke="#000" stroke-width="0.2" textLength="23.8" lengthAdjust="spacing"><tspan font-style="italic">n</tspan> = 21</text>
<text x="379.0" y="354.4" font-size="8.6" font-weight="bold" stroke="#000" stroke-width="0.2" textLength="24.6" lengthAdjust="spacing"><tspan font-style="italic">n</tspan> = 52</text>
<text x="448.5" y="367.2" font-size="8.6" font-weight="bold" stroke="#000" stroke-width="0.2" textLength="28.2" lengthAdjust="spacing"><tspan font-style="italic">n</tspan> = 114</text>
<text x="463.8" y="432.9" font-size="10.3" stroke="#000" stroke-width="0.25" textLength="34.6" lengthAdjust="spacingAndGlyphs"><tspan font-style="italic">p</tspan>=0.006</text>
<text x="20.4" y="490.3" font-size="13.8" stroke="#000" stroke-width="0.3" font-weight="bold" >D</text>
<text x="101.8" y="494.6" font-size="8.7" font-weight="bold" stroke="#000" stroke-width="0.25" textLength="66.8" lengthAdjust="spacing">Primary tumor 1</text>
<line x1="101.00" y1="497.80" x2="172.60" y2="497.80" stroke="#000" stroke-width="1.5" />
<text x="239.4" y="494.6" font-size="8.7" font-weight="bold" stroke="#000" stroke-width="0.25" textLength="69.6" lengthAdjust="spacing">Primary tumor 2</text>
<line x1="238.00" y1="497.80" x2="309.60" y2="497.80" stroke="#000" stroke-width="1.5" />
<text x="379.2" y="494.6" font-size="8.7" font-weight="bold" stroke="#000" stroke-width="0.25" textLength="67.0" lengthAdjust="spacing">Liver metastasis</text>
<line x1="378.30" y1="497.80" x2="447.50" y2="497.80" stroke="#000" stroke-width="1.5" />
<text x="86.4" y="515.5" font-size="7.0" font-weight="bold" stroke="#000" stroke-width="0.15" textLength="96.8" lengthAdjust="spacing">A146T (G436A), TP53 R306</text>
<circle cx="185.80" cy="511.0" r="1.45" fill="#000"/>
<text x="236.9" y="515.5" font-size="7.0" font-weight="bold" stroke="#000" stroke-width="0.15" textLength="79.4" lengthAdjust="spacing">G12V (G35T), TP 53 wt</text>
<text x="366.8" y="515.5" font-size="7.0" font-weight="bold" stroke="#000" stroke-width="0.15" textLength="96.9" lengthAdjust="spacing">A146T (G436A), TP53 R306</text>
<circle cx="466.30" cy="511.0" r="1.45" fill="#000"/>
<rect x="119.20" y="524.50" width="32.70" height="17.50" fill="#ecf7fc" />
<rect x="119.20" y="541.30" width="32.70" height="38.50" fill="#d0ecfa" />
<rect x="88.00" y="528.30" width="98.90" height="1.80" fill="#a6ecec" />
<line x1="91.90" y1="524.70" x2="91.90" y2="529.90" stroke="#9aa0a0" stroke-width="1.5" />
<text x="91.9" y="537.0" font-size="6.8" font-weight="bold" text-anchor="middle" fill="#d8202e" transform="translate(91.9,0) scale(1.5,1) translate(-91.9,0)">T</text>
<line x1="102.70" y1="524.70" x2="102.70" y2="529.90" stroke="#9aa0a0" stroke-width="1.5" />
<text x="102.7" y="537.0" font-size="6.8" font-weight="bold" text-anchor="middle" fill="#3038c0" transform="translate(102.7,0) scale(1.5,1) translate(-102.7,0)">C</text>
<line x1="113.70" y1="524.70" x2="113.70" y2="529.90" stroke="#9aa0a0" stroke-width="1.5" />
<text x="113.7" y="537.0" font-size="6.8" font-weight="bold" text-anchor="middle" fill="#22a030" transform="translate(113.7,0) scale(1.5,1) translate(-113.7,0)">A</text>
<line x1="124.20" y1="524.70" x2="124.20" y2="529.90" stroke="#9aa0a0" stroke-width="1.5" />
<text x="124.2" y="537.0" font-size="6.8" font-weight="bold" text-anchor="middle" fill="#22a030" transform="translate(124.2,0) scale(1.5,1) translate(-124.2,0)">A</text>
<line x1="135.80" y1="524.70" x2="135.80" y2="529.90" stroke="#9aa0a0" stroke-width="1.5" />
<text x="135.8" y="537.0" font-size="6.8" font-weight="bold" text-anchor="middle" fill="#3038c0" transform="translate(135.8,0) scale(1.5,1) translate(-135.8,0)">C</text>
<line x1="146.30" y1="524.70" x2="146.30" y2="529.90" stroke="#9aa0a0" stroke-width="1.5" />
<text x="146.3" y="537.0" font-size="6.8" font-weight="bold" text-anchor="middle" fill="#22a030" transform="translate(146.3,0) scale(1.5,1) translate(-146.3,0)">A</text>
<line x1="156.90" y1="524.70" x2="156.90" y2="529.90" stroke="#9aa0a0" stroke-width="1.5" />
<text x="156.9" y="537.0" font-size="6.8" font-weight="bold" text-anchor="middle" fill="#22a030" transform="translate(156.9,0) scale(1.5,1) translate(-156.9,0)">A</text>
<line x1="167.50" y1="524.70" x2="167.50" y2="529.90" stroke="#9aa0a0" stroke-width="1.5" />
<text x="167.5" y="537.0" font-size="6.8" font-weight="bold" text-anchor="middle" fill="#22a030" transform="translate(167.5,0) scale(1.5,1) translate(-167.5,0)">A</text>
<line x1="178.40" y1="524.70" x2="178.40" y2="529.90" stroke="#9aa0a0" stroke-width="1.5" />
<text x="178.4" y="537.0" font-size="6.8" font-weight="bold" text-anchor="middle" fill="#1a1a1a" transform="translate(178.4,0) scale(1.5,1) translate(-178.4,0)">G</text>
<path d="M88.40,575.38 L88.85,573.54 L89.30,571.18 L89.75,568.38 L90.20,565.37 L90.65,562.43 L91.10,559.95 L91.55,558.29 L92.00,557.70 L92.45,558.29 L92.90,559.95 L93.35,562.43 L93.80,565.37 L94.25,568.38 L94.70,571.18 L95.15,573.54 L95.60,575.38 L96.05,576.71 L96.50,577.62 L96.95,578.19 L97.40,578.53 L97.85,578.71 L98.30,578.81" fill="none" stroke="#d82c3c" stroke-width="1.4"/>
<path d="M96.70,578.82 L97.15,578.72 L97.60,578.54 L98.05,578.21 L98.50,577.65 L98.95,576.78 L99.40,575.48 L99.85,573.69 L100.30,571.39 L100.75,568.68 L101.20,565.75 L101.65,562.90 L102.10,560.49 L102.55,558.87 L103.00,558.30 L103.45,558.87 L103.90,560.49 L104.35,562.90 L104.80,565.75 L105.25,568.68 L105.70,571.39 L106.15,573.69 L106.60,575.48 L107.05,576.78 L107.50,577.65 L107.95,578.21 L108.40,578.54 L108.85,578.72 L109.30,578.82" fill="none" stroke="#3a46c4" stroke-width="1.4"/>
<path d="M107.70,578.84 L108.15,578.78 L108.60,578.65 L109.05,578.42 L109.50,578.03 L109.95,577.43 L110.40,576.52 L110.85,575.28 L111.30,573.69 L111.75,571.81 L112.20,569.77 L112.65,567.79 L113.10,566.12 L113.55,565.00 L114.00,564.60 L114.45,565.00 L114.90,566.12 L115.35,567.79 L115.80,569.77 L116.25,571.81 L116.70,573.69 L117.15,575.28 L117.60,576.52 L118.05,577.43 L118.50,578.03 L118.95,578.42 L119.40,578.65 L119.85,578.78 L120.30,578.84" fill="none" stroke="#34a834" stroke-width="1.4"/>
<path d="M118.20,578.86 L118.65,578.81 L119.10,578.72 L119.55,578.56 L120.00,578.29 L120.45,577.86 L120.90,577.22 L121.35,576.34 L121.80,575.22 L122.25,573.89 L122.70,572.45 L123.15,571.05 L123.60,569.87 L124.05,569.08 L124.50,568.80 L124.95,569.08 L125.40,569.87 L125.85,571.05 L126.30,572.45 L126.75,573.89 L127.20,575.22 L127.65,576.34 L128.10,577.22 L128.55,577.86 L129.00,578.29 L129.45,578.56 L129.90,578.72 L130.35,578.81 L130.80,578.86" fill="none" stroke="#34a834" stroke-width="1.4"/>
<path d="M129.20,578.83 L129.65,578.75 L130.10,578.60 L130.55,578.33 L131.00,577.88 L131.45,577.16 L131.90,576.09 L132.35,574.62 L132.80,572.74 L133.25,570.52 L133.70,568.11 L134.15,565.77 L134.60,563.79 L135.05,562.47 L135.50,562.00 L135.95,562.47 L136.40,563.79 L136.85,565.77 L137.30,568.11 L137.75,570.52 L138.20,572.74 L138.65,574.62 L139.10,576.09 L139.55,577.16 L140.00,577.88 L140.45,578.33 L140.90,578.60 L141.35,578.75 L141.80,578.83" fill="none" stroke="#3a46c4" stroke-width="1.4"/>
<path d="M139.70,578.85 L140.15,578.79 L140.60,578.68 L141.05,578.48 L141.50,578.15 L141.95,577.62 L142.40,576.84 L142.85,575.76 L143.30,574.38 L143.75,572.75 L144.20,570.98 L144.65,569.27 L145.10,567.82 L145.55,566.84 L146.00,566.50 L146.45,566.84 L146.90,567.82 L147.35,569.27 L147.80,570.98 L148.25,572.75 L148.70,574.38 L149.15,575.76 L149.60,576.84 L150.05,577.62 L150.50,578.15 L150.95,578.48 L151.40,578.68 L151.85,578.79 L152.30,578.85" fill="none" stroke="#34a834" stroke-width="1.4"/>
<path d="M150.70,578.83 L151.15,578.76 L151.60,578.62 L152.05,578.37 L152.50,577.94 L152.95,577.26 L153.40,576.26 L153.85,574.88 L154.30,573.11 L154.75,571.01 L155.20,568.75 L155.65,566.55 L156.10,564.69 L156.55,563.44 L157.00,563.00 L157.45,563.44 L157.90,564.69 L158.35,566.55 L158.80,568.75 L159.25,571.01 L159.70,573.11 L160.15,574.88 L160.60,576.26 L161.05,577.26 L161.50,577.94 L161.95,578.37 L162.40,578.62 L162.85,578.76 L163.30,578.83" fill="none" stroke="#34a834" stroke-width="1.4"/>
<path d="M161.20,578.83 L161.65,578.74 L162.10,578.58 L162.55,578.30 L163.00,577.82 L163.45,577.05 L163.90,575.93 L164.35,574.37 L164.80,572.38 L165.25,570.02 L165.70,567.47 L166.15,564.99 L166.60,562.90 L167.05,561.50 L167.50,561.00 L167.95,561.50 L168.40,562.90 L168.85,564.99 L169.30,567.47 L169.75,570.02 L170.20,572.38 L170.65,574.37 L171.10,575.93 L171.55,577.05 L172.00,577.82 L172.45,578.30 L172.90,578.58 L173.35,578.74 L173.80,578.83" fill="none" stroke="#34a834" stroke-width="1.4"/>
<path d="M171.70,578.85 L172.15,578.80 L172.60,578.69 L173.05,578.50 L173.50,578.18 L173.95,577.67 L174.40,576.92 L174.85,575.89 L175.30,574.56 L175.75,573.00 L176.20,571.30 L176.65,569.65 L177.10,568.26 L177.55,567.33 L178.00,567.00 L178.45,567.33 L178.90,568.26 L179.35,569.65 L179.80,571.30 L180.25,573.00 L180.70,574.56 L181.15,575.89 L181.60,576.92 L182.05,577.67 L182.50,578.18 L182.95,578.50 L183.40,578.69 L183.85,578.80 L184.30,578.85" fill="none" stroke="#1a1a1a" stroke-width="1.4"/>
<path d="M181.30,578.78 L181.75,578.65 L182.20,578.39 L182.65,577.93 L183.10,577.15 L183.55,575.92 L184.00,574.10 L184.45,571.59 L184.90,568.37 L185.35,564.57 L185.80,560.45 L186.25,556.45 L186.70,553.07" fill="none" stroke="#34a834" stroke-width="1.4"/>
<rect x="87.20" y="523.50" width="100.50" height="57.10" fill="none" stroke="#000" stroke-width="1.7"/>
<rect x="256.10" y="524.50" width="32.30" height="17.50" fill="#ecf7fc" />
<rect x="256.10" y="541.30" width="32.30" height="38.70" fill="#d0ecfa" />
<rect x="226.80" y="528.30" width="100.20" height="1.80" fill="#a6ecec" />
<line x1="230.00" y1="524.70" x2="230.00" y2="529.90" stroke="#9aa0a0" stroke-width="1.5" />
<text x="230" y="537.0" font-size="6.8" font-weight="bold" text-anchor="middle" fill="#1a1a1a" transform="translate(230,0) scale(1.5,1) translate(-230,0)">G</text>
<line x1="239.40" y1="524.70" x2="239.40" y2="529.90" stroke="#9aa0a0" stroke-width="1.5" />
<text x="239.4" y="537.0" font-size="6.8" font-weight="bold" text-anchor="middle" fill="#3038c0" transform="translate(239.4,0) scale(1.5,1) translate(-239.4,0)">C</text>
<line x1="249.60" y1="524.70" x2="249.60" y2="529.90" stroke="#9aa0a0" stroke-width="1.5" />
<text x="249.6" y="537.0" font-size="6.8" font-weight="bold" text-anchor="middle" fill="#d8202e" transform="translate(249.6,0) scale(1.5,1) translate(-249.6,0)">T</text>
<line x1="260.00" y1="524.70" x2="260.00" y2="529.90" stroke="#9aa0a0" stroke-width="1.5" />
<text x="260" y="537.0" font-size="6.8" font-weight="bold" text-anchor="middle" fill="#1a1a1a" transform="translate(260,0) scale(1.5,1) translate(-260,0)">G</text>
<line x1="270.40" y1="524.70" x2="270.40" y2="529.90" stroke="#9aa0a0" stroke-width="1.5" />
<text x="270.4" y="537.0" font-size="6.8" font-weight="bold" text-anchor="middle" fill="#1a1a1a" transform="translate(270.4,0) scale(1.5,1) translate(-270.4,0)">G</text>
<line x1="281.40" y1="524.70" x2="281.40" y2="529.90" stroke="#9aa0a0" stroke-width="1.5" />
<text x="281.4" y="537.0" font-size="6.8" font-weight="bold" text-anchor="middle" fill="#d8202e" transform="translate(281.4,0) scale(1.5,1) translate(-281.4,0)">T</text>
<line x1="292.30" y1="524.70" x2="292.30" y2="529.90" stroke="#9aa0a0" stroke-width="1.5" />
<text x="292.3" y="537.0" font-size="6.8" font-weight="bold" text-anchor="middle" fill="#1a1a1a" transform="translate(292.3,0) scale(1.5,1) translate(-292.3,0)">G</text>
<line x1="302.70" y1="524.70" x2="302.70" y2="529.90" stroke="#9aa0a0" stroke-width="1.5" />
<text x="302.7" y="537.0" font-size="6.8" font-weight="bold" text-anchor="middle" fill="#1a1a1a" transform="translate(302.7,0) scale(1.5,1) translate(-302.7,0)">G</text>
<line x1="313.60" y1="524.70" x2="313.60" y2="529.90" stroke="#9aa0a0" stroke-width="1.5" />
<text x="313.6" y="537.0" font-size="6.8" font-weight="bold" text-anchor="middle" fill="#3038c0" transform="translate(313.6,0) scale(1.5,1) translate(-313.6,0)">C</text>
<line x1="323.50" y1="524.70" x2="323.50" y2="529.90" stroke="#9aa0a0" stroke-width="1.5" />
<text x="323.5" y="537.0" font-size="6.8" font-weight="bold" text-anchor="middle" fill="#1a1a1a" transform="translate(323.5,0) scale(1.5,1) translate(-323.5,0)">G</text>
<path d="M227.30,574.51 L227.75,572.85 L228.20,571.06 L228.65,569.31 L229.10,567.84 L229.55,566.85 L230.00,566.50 L230.45,566.85 L230.90,567.84 L231.35,569.31 L231.80,571.06 L232.25,572.85 L232.70,574.51 L233.15,575.91 L233.60,577.01 L234.05,577.80 L234.50,578.34 L234.95,578.68 L235.40,578.88 L235.85,578.99 L236.30,579.05" fill="none" stroke="#1a1a1a" stroke-width="1.4"/>
<path d="M233.00,579.02 L233.45,578.93 L233.90,578.76 L234.35,578.45 L234.80,577.92 L235.25,577.09 L235.70,575.86 L236.15,574.17 L236.60,572.00 L237.05,569.43 L237.50,566.65 L237.95,563.95 L238.40,561.67 L238.85,560.14 L239.30,559.60 L239.75,560.14 L240.20,561.67 L240.65,563.95 L241.10,566.65 L241.55,569.43 L242.00,572.00 L242.45,574.17 L242.90,575.86 L243.35,577.09 L243.80,577.92 L244.25,578.45 L244.70,578.76 L245.15,578.93 L245.60,579.02" fill="none" stroke="#3a46c4" stroke-width="1.4"/>
<path d="M243.30,579.03 L243.75,578.95 L244.20,578.80 L244.65,578.53 L245.10,578.07 L245.55,577.34 L246.00,576.26 L246.45,574.77 L246.90,572.87 L247.35,570.62 L247.80,568.18 L248.25,565.81 L248.70,563.81 L249.15,562.47 L249.60,562.00 L250.05,562.47 L250.50,563.81 L250.95,565.81 L251.40,568.18 L251.85,570.62 L252.30,572.87 L252.75,574.77 L253.20,576.26 L253.65,577.34 L254.10,578.07 L254.55,578.53 L255.00,578.80 L255.45,578.95 L255.90,579.03" fill="none" stroke="#d82c3c" stroke-width="1.4"/>
<path d="M254.00,579.01 L254.45,578.91 L254.90,578.72 L255.35,578.37 L255.80,577.78 L256.25,576.85 L256.70,575.48 L257.15,573.58 L257.60,571.16 L258.05,568.29 L258.50,565.18 L258.95,562.16 L259.40,559.61 L259.85,557.90 L260.30,557.30 L260.75,557.90 L261.20,559.61 L261.65,562.16 L262.10,565.18 L262.55,568.29 L263.00,571.16 L263.45,573.58 L263.90,575.48 L264.35,576.85 L264.80,577.78 L265.25,578.37 L265.70,578.72 L266.15,578.91 L266.60,579.01" fill="none" stroke="#1a1a1a" stroke-width="1.4"/>
<path d="M264.30,579.03 L264.75,578.94 L265.20,578.78 L265.65,578.49 L266.10,577.99 L266.55,577.21 L267.00,576.06 L267.45,574.47 L267.90,572.43 L268.35,570.02 L268.80,567.42 L269.25,564.88 L269.70,562.74 L270.15,561.31 L270.60,560.80 L271.05,561.31 L271.50,562.74 L271.95,564.88 L272.40,567.42 L272.85,570.02 L273.30,572.43 L273.75,574.47 L274.20,576.06 L274.65,577.21 L275.10,577.99 L275.55,578.49 L276.00,578.78 L276.45,578.94 L276.90,579.03" fill="none" stroke="#1a1a1a" stroke-width="1.4"/>
<path d="M275.30,579.03 L275.75,578.95 L276.20,578.80 L276.65,578.53 L277.10,578.07 L277.55,577.34 L278.00,576.26 L278.45,574.77 L278.90,572.87 L279.35,570.62 L279.80,568.18 L280.25,565.81 L280.70,563.81 L281.15,562.47 L281.60,562.00 L282.05,562.47 L282.50,563.81 L282.95,565.81 L283.40,568.18 L283.85,570.62 L284.30,572.87 L284.75,574.77 L285.20,576.26 L285.65,577.34 L286.10,578.07 L286.55,578.53 L287.00,578.80 L287.45,578.95 L287.90,579.03" fill="none" stroke="#d82c3c" stroke-width="1.4"/>
<path d="M286.00,579.00 L286.45,578.88 L286.90,578.66 L287.35,578.27 L287.80,577.60 L288.25,576.54 L288.70,574.98 L289.15,572.83 L289.60,570.06 L290.05,566.80 L290.50,563.27 L290.95,559.83 L291.40,556.93 L291.85,554.99 L292.30,554.30 L292.75,554.99 L293.20,556.93 L293.65,559.83 L294.10,563.27 L294.55,566.80 L295.00,570.06 L295.45,572.83 L295.90,574.98 L296.35,576.54 L296.80,577.60 L297.25,578.27 L297.70,578.66 L298.15,578.88 L298.60,579.00" fill="none" stroke="#1a1a1a" stroke-width="1.4"/>
<path d="M296.40,579.02 L296.85,578.93 L297.30,578.76 L297.75,578.45 L298.20,577.92 L298.65,577.09 L299.10,575.86 L299.55,574.17 L300.00,572.00 L300.45,569.43 L300.90,566.65 L301.35,563.95 L301.80,561.67 L302.25,560.14 L302.70,559.60 L303.15,560.14 L303.60,561.67 L304.05,563.95 L304.50,566.65 L304.95,569.43 L305.40,572.00 L305.85,574.17 L306.30,575.86 L306.75,577.09 L307.20,577.92 L307.65,578.45 L308.10,578.76 L308.55,578.93 L309.00,579.02" fill="none" stroke="#1a1a1a" stroke-width="1.4"/>
<path d="M307.60,579.03 L308.05,578.96 L308.50,578.82 L308.95,578.56 L309.40,578.13 L309.85,577.44 L310.30,576.43 L310.75,575.03 L311.20,573.23 L311.65,571.11 L312.10,568.82 L312.55,566.59 L313.00,564.71 L313.45,563.45 L313.90,563.00 L314.35,563.45 L314.80,564.71 L315.25,566.59 L315.70,568.82 L316.15,571.11 L316.60,573.23 L317.05,575.03 L317.50,576.43 L317.95,577.44 L318.40,578.13 L318.85,578.56 L319.30,578.82 L319.75,578.96 L320.20,579.03" fill="none" stroke="#3a46c4" stroke-width="1.4"/>
<path d="M317.50,579.03 L317.95,578.96 L318.40,578.82 L318.85,578.56 L319.30,578.13 L319.75,577.44 L320.20,576.43 L320.65,575.03 L321.10,573.23 L321.55,571.11 L322.00,568.82 L322.45,566.59 L322.90,564.71 L323.35,563.45 L323.80,563.00 L324.25,563.45 L324.70,564.71 L325.15,566.59 L325.60,568.82 L326.05,571.11 L326.50,573.23" fill="none" stroke="#1a1a1a" stroke-width="1.4"/>
<rect x="226.00" y="523.50" width="101.80" height="57.30" fill="none" stroke="#000" stroke-width="1.7"/>
<rect x="397.10" y="524.70" width="32.90" height="17.50" fill="#ecf7fc" />
<rect x="397.10" y="541.50" width="32.90" height="38.00" fill="#d0ecfa" />
<rect x="366.80" y="528.50" width="98.40" height="1.80" fill="#a6ecec" />
<line x1="371.00" y1="524.90" x2="371.00" y2="530.10" stroke="#9aa0a0" stroke-width="1.5" />
<text x="371" y="537.2" font-size="6.8" font-weight="bold" text-anchor="middle" fill="#d8202e" transform="translate(371,0) scale(1.5,1) translate(-371,0)">T</text>
<line x1="382.30" y1="524.90" x2="382.30" y2="530.10" stroke="#9aa0a0" stroke-width="1.5" />
<text x="382.3" y="537.2" font-size="6.8" font-weight="bold" text-anchor="middle" fill="#3038c0" transform="translate(382.3,0) scale(1.5,1) translate(-382.3,0)">C</text>
<line x1="392.50" y1="524.90" x2="392.50" y2="530.10" stroke="#9aa0a0" stroke-width="1.5" />
<text x="392.5" y="537.2" font-size="6.8" font-weight="bold" text-anchor="middle" fill="#22a030" transform="translate(392.5,0) scale(1.5,1) translate(-392.5,0)">A</text>
<line x1="402.80" y1="524.90" x2="402.80" y2="530.10" stroke="#9aa0a0" stroke-width="1.5" />
<text x="402.8" y="537.2" font-size="6.8" font-weight="bold" text-anchor="middle" fill="#22a030" transform="translate(402.8,0) scale(1.5,1) translate(-402.8,0)">A</text>
<line x1="413.30" y1="524.90" x2="413.30" y2="530.10" stroke="#9aa0a0" stroke-width="1.5" />
<text x="413.3" y="537.2" font-size="6.8" font-weight="bold" text-anchor="middle" fill="#3038c0" transform="translate(413.3,0) scale(1.5,1) translate(-413.3,0)">C</text>
<line x1="423.40" y1="524.90" x2="423.40" y2="530.10" stroke="#9aa0a0" stroke-width="1.5" />
<text x="423.4" y="537.2" font-size="6.8" font-weight="bold" text-anchor="middle" fill="#22a030" transform="translate(423.4,0) scale(1.5,1) translate(-423.4,0)">A</text>
<line x1="434.10" y1="524.90" x2="434.10" y2="530.10" stroke="#9aa0a0" stroke-width="1.5" />
<text x="434.1" y="537.2" font-size="6.8" font-weight="bold" text-anchor="middle" fill="#22a030" transform="translate(434.1,0) scale(1.5,1) translate(-434.1,0)">A</text>
<line x1="444.60" y1="524.90" x2="444.60" y2="530.10" stroke="#9aa0a0" stroke-width="1.5" />
<text x="444.6" y="537.2" font-size="6.8" font-weight="bold" text-anchor="middle" fill="#22a030" transform="translate(444.6,0) scale(1.5,1) translate(-444.6,0)">A</text>
<line x1="457.20" y1="524.90" x2="457.20" y2="530.10" stroke="#9aa0a0" stroke-width="1.5" />
<text x="457.2" y="537.2" font-size="6.8" font-weight="bold" text-anchor="middle" fill="#1a1a1a" transform="translate(457.2,0) scale(1.5,1) translate(-457.2,0)">G</text>
<path d="M367.40,574.96 L367.85,573.06 L368.30,570.62 L368.75,567.74 L369.20,564.62 L369.65,561.59 L370.10,559.02 L370.55,557.31 L371.00,556.70 L371.45,557.31 L371.90,559.02 L372.35,561.59 L372.80,564.62 L373.25,567.74 L373.70,570.62 L374.15,573.06 L374.60,574.96 L375.05,576.34 L375.50,577.27 L375.95,577.86 L376.40,578.21 L376.85,578.41 L377.30,578.51" fill="none" stroke="#d82c3c" stroke-width="1.4"/>
<path d="M376.00,578.51 L376.45,578.41 L376.90,578.21 L377.35,577.86 L377.80,577.27 L378.25,576.34 L378.70,574.96 L379.15,573.06 L379.60,570.62 L380.05,567.74 L380.50,564.62 L380.95,561.59 L381.40,559.02 L381.85,557.31 L382.30,556.70 L382.75,557.31 L383.20,559.02 L383.65,561.59 L384.10,564.62 L384.55,567.74 L385.00,570.62 L385.45,573.06 L385.90,574.96 L386.35,576.34 L386.80,577.27 L387.25,577.86 L387.70,578.21 L388.15,578.41 L388.60,578.51" fill="none" stroke="#3a46c4" stroke-width="1.4"/>
<path d="M386.20,578.54 L386.65,578.47 L387.10,578.34 L387.55,578.11 L388.00,577.72 L388.45,577.09 L388.90,576.17 L389.35,574.91 L389.80,573.28 L390.25,571.36 L390.70,569.28 L391.15,567.26 L391.60,565.55 L392.05,564.40 L392.50,564.00 L392.95,564.40 L393.40,565.55 L393.85,567.26 L394.30,569.28 L394.75,571.36 L395.20,573.28 L395.65,574.91 L396.10,576.17 L396.55,577.09 L397.00,577.72 L397.45,578.11 L397.90,578.34 L398.35,578.47 L398.80,578.54" fill="none" stroke="#34a834" stroke-width="1.4"/>
<path d="M396.20,578.57 L396.65,578.54 L397.10,578.47 L397.55,578.36 L398.00,578.17 L398.45,577.87 L398.90,577.42 L399.35,576.80 L399.80,576.01 L400.25,575.08 L400.70,574.07 L401.15,573.08 L401.60,572.25 L402.05,571.70 L402.50,571.50 L402.95,571.70 L403.40,572.25 L403.85,573.08 L404.30,574.07 L404.75,575.08 L405.20,576.01 L405.65,576.80 L406.10,577.42 L406.55,577.87 L407.00,578.17 L407.45,578.36 L407.90,578.47 L408.35,578.54 L408.80,578.57" fill="none" stroke="#34a834" stroke-width="1.4"/>
<path d="M407.00,578.52 L407.45,578.44 L407.90,578.28 L408.35,577.98 L408.80,577.49 L409.25,576.70 L409.70,575.54 L410.15,573.94 L410.60,571.90 L411.05,569.47 L411.50,566.85 L411.95,564.30 L412.40,562.15 L412.85,560.71 L413.30,560.20 L413.75,560.71 L414.20,562.15 L414.65,564.30 L415.10,566.85 L415.55,569.47 L416.00,571.90 L416.45,573.94 L416.90,575.54 L417.35,576.70 L417.80,577.49 L418.25,577.98 L418.70,578.28 L419.15,578.44 L419.60,578.52" fill="none" stroke="#3a46c4" stroke-width="1.4"/>
<path d="M416.90,578.55 L417.35,578.49 L417.80,578.37 L418.25,578.16 L418.70,577.81 L419.15,577.26 L419.60,576.44 L420.05,575.31 L420.50,573.86 L420.95,572.15 L421.40,570.30 L421.85,568.50 L422.30,566.98 L422.75,565.96 L423.20,565.60 L423.65,565.96 L424.10,566.98 L424.55,568.50 L425.00,570.30 L425.45,572.15 L425.90,573.86 L426.35,575.31 L426.80,576.44 L427.25,577.26 L427.70,577.81 L428.15,578.16 L428.60,578.37 L429.05,578.49 L429.50,578.55" fill="none" stroke="#34a834" stroke-width="1.4"/>
<path d="M428.00,578.53 L428.45,578.46 L428.90,578.31 L429.35,578.05 L429.80,577.60 L430.25,576.90 L430.70,575.86 L431.15,574.43 L431.60,572.59 L432.05,570.42 L432.50,568.07 L432.95,565.78 L433.40,563.85 L433.85,562.56 L434.30,562.10 L434.75,562.56 L435.20,563.85 L435.65,565.78 L436.10,568.07 L436.55,570.42 L437.00,572.59 L437.45,574.43 L437.90,575.86 L438.35,576.90 L438.80,577.60 L439.25,578.05 L439.70,578.31 L440.15,578.46 L440.60,578.53" fill="none" stroke="#34a834" stroke-width="1.4"/>
<path d="M438.50,578.52 L438.95,578.43 L439.40,578.26 L439.85,577.96 L440.30,577.44 L440.75,576.62 L441.20,575.41 L441.65,573.74 L442.10,571.60 L442.55,569.08 L443.00,566.34 L443.45,563.68 L443.90,561.44 L444.35,559.93 L444.80,559.40 L445.25,559.93 L445.70,561.44 L446.15,563.68 L446.60,566.34 L447.05,569.08 L447.50,571.60 L447.95,573.74 L448.40,575.41 L448.85,576.62 L449.30,577.44 L449.75,577.96 L450.20,578.26 L450.65,578.43 L451.10,578.52" fill="none" stroke="#34a834" stroke-width="1.4"/>
<path d="M450.10,578.55 L450.55,578.49 L451.00,578.37 L451.45,578.16 L451.90,577.81 L452.35,577.26 L452.80,576.44 L453.25,575.31 L453.70,573.86 L454.15,572.15 L454.60,570.30 L455.05,568.50 L455.50,566.98 L455.95,565.96 L456.40,565.60 L456.85,565.96 L457.30,566.98 L457.75,568.50 L458.20,570.30 L458.65,572.15 L459.10,573.86 L459.55,575.31 L460.00,576.44 L460.45,577.26 L460.90,577.81 L461.35,578.16 L461.80,578.37 L462.25,578.49 L462.70,578.55" fill="none" stroke="#1a1a1a" stroke-width="1.4"/>
<path d="M459.30,578.48 L459.75,578.34 L460.20,578.08 L460.65,577.61 L461.10,576.81 L461.55,575.55 L462.00,573.68 L462.45,571.11 L462.90,567.82 L463.35,563.92 L463.80,559.70 L464.25,555.60 L464.70,552.14" fill="none" stroke="#34a834" stroke-width="1.4"/>
<rect x="366.00" y="523.70" width="100.00" height="56.60" fill="none" stroke="#000" stroke-width="1.7"/>
<line x1="157.00" y1="601.90" x2="157.00" y2="655.40" stroke="#dc5060" stroke-width="1.5" stroke-dasharray="1.4,1.0"/>
<line x1="175.60" y1="601.90" x2="175.60" y2="655.40" stroke="#88c8e0" stroke-width="1.5" stroke-dasharray="1.4,1.0"/>
<text x="157.0" y="598.9" font-size="5.8" stroke="#000" stroke-width="0.2" font-weight="bold" text-anchor="middle" >G</text>
<text x="175.6" y="598.9" font-size="5.8" stroke="#000" stroke-width="0.2" font-weight="bold" text-anchor="middle" >A</text>
<path d="M87.50,642.02 L87.90,642.90 L88.30,643.47 L88.70,643.43 L89.10,642.66 L89.50,641.34 L89.90,640.07 L90.30,639.56 L90.70,640.11 L91.10,641.38 L91.50,642.62 L91.90,643.13 L92.30,642.63 L92.70,641.39 L93.10,640.12 L93.50,639.58 L93.90,640.14 L94.30,641.47 L94.70,642.87 L95.10,643.78 L95.50,644.07 L95.90,644.03 L96.30,644.06 L96.70,644.33 L97.10,644.71 L97.50,644.89 L97.90,644.64 L98.30,643.96 L98.70,643.12 L99.10,642.62 L99.50,642.80 L99.90,643.55 L100.30,644.43 L100.70,645.08 L101.10,645.40 L101.50,645.46 L101.90,645.31 L102.30,644.89 L102.70,644.12 L103.10,643.05 L103.50,642.00 L103.90,641.42 L104.30,641.62 L104.70,642.48 L105.10,643.59 L105.50,644.52 L105.90,645.10 L106.30,645.37 L106.70,645.45 L107.10,645.45 L107.50,645.41 L107.90,645.37 L108.30,645.32 L108.70,645.28 L109.10,645.24 L109.50,645.21 L109.90,645.20 L110.30,645.20 L110.70,645.22 L111.10,645.24 L111.50,645.26 L111.90,645.28 L112.30,645.26 L112.70,645.20 L113.10,645.06 L113.50,644.81 L113.90,644.41 L114.30,643.81 L114.70,643.00 L115.10,641.96 L115.50,640.69 L115.90,639.22 L116.30,637.36 L116.70,634.29 L117.10,628.59 L117.50,620.66 L117.90,615.26 L118.30,617.24 L118.70,624.70 L119.10,631.83 L119.50,636.07 L119.90,638.37 L120.30,639.99 L120.70,641.36 L121.10,642.53 L121.50,643.47 L121.90,644.19 L122.30,644.70 L122.70,645.05 L123.10,645.27 L123.50,645.36 L123.90,645.32 L124.30,645.06 L124.70,644.49 L125.10,643.52 L125.50,642.26 L125.90,641.00 L126.30,640.19 L126.70,640.15 L127.10,640.87 L127.50,642.00 L127.90,643.10 L128.30,643.89 L128.70,644.35 L129.10,644.62 L129.50,644.83 L129.90,645.05 L130.30,645.25 L130.70,645.41 L131.10,645.51 L131.50,645.56 L131.90,645.59 L132.30,645.60 L132.70,645.59 L133.10,645.58 L133.50,645.52 L133.90,645.34 L134.30,644.93 L134.70,644.19 L135.10,643.17 L135.50,642.17 L135.90,641.62 L136.30,641.81 L136.70,642.63 L137.10,643.66 L137.50,644.47 L137.90,644.78 L138.30,644.55 L138.70,643.85 L139.10,642.93 L139.50,642.19 L139.90,642.02 L140.30,642.51 L140.70,643.42 L141.10,644.33 L141.50,645.00 L141.90,645.36 L142.30,645.52 L142.70,645.58 L143.10,645.60 L143.50,645.60 L143.90,645.60 L144.30,645.60 L144.70,645.60 L145.10,645.60 L145.50,645.60 L145.90,645.60 L146.30,645.60 L146.70,645.60 L147.10,645.60 L147.50,645.60 L147.90,645.60 L148.30,645.60 L148.70,645.60 L149.10,645.60 L149.50,645.60 L149.90,645.60 L150.30,645.59 L150.70,645.58 L151.10,645.57 L151.50,645.54 L151.90,645.49 L152.30,645.41 L152.70,645.29 L153.10,645.11 L153.50,644.86 L153.90,644.54 L154.30,644.13 L154.70,643.66 L155.10,643.10 L155.50,642.30 L155.90,640.83 L156.30,638.36 L156.70,635.78 L157.10,635.09 L157.50,636.96 L157.90,639.71 L158.30,641.68 L158.70,642.75 L159.10,643.39 L159.50,643.88 L159.90,644.28 L160.30,644.53 L160.70,644.56 L161.10,644.31 L161.50,643.79 L161.90,643.11 L162.30,642.52 L162.70,642.27 L163.10,642.47 L163.50,643.02 L163.90,643.66 L164.30,644.18 L164.70,644.48 L165.10,644.58 L165.50,644.59 L165.90,644.58 L166.30,644.61 L166.70,644.70 L167.10,644.84 L167.50,644.99 L167.90,645.15 L168.30,645.29 L168.70,645.40 L169.10,645.48 L169.50,645.52 L169.90,645.54 L170.30,645.53 L170.70,645.48 L171.10,645.39 L171.50,645.21 L171.90,644.91 L172.30,644.46 L172.70,643.81 L173.10,642.95 L173.50,641.86 L173.90,640.57 L174.30,638.91 L174.70,635.93 L175.10,630.25 L175.50,623.47 L175.90,621.56 L176.30,626.67 L176.70,633.46 L177.10,637.68 L177.50,639.81 L177.90,641.19 L178.30,642.27 L178.70,642.98 L179.10,643.18 L179.50,642.76 L179.90,641.80 L180.30,640.61 L180.70,639.68 L181.10,639.46 L181.50,639.98 L181.90,640.87 L182.30,641.48 L182.70,641.39 L183.10,640.60 L183.50,639.60 L183.90,639.03 L184.30,639.31 L184.70,640.35 L185.10,641.62 L185.50,642.57 L185.90,643.02 L186.30,643.20" fill="none" stroke="#111" stroke-width="1.15" stroke-linejoin="round"/>
<line x1="89.20" y1="651.50" x2="89.20" y2="653.90" stroke="#000" stroke-width="0.9" />
<line x1="91.53" y1="651.50" x2="91.53" y2="653.90" stroke="#000" stroke-width="0.9" />
<line x1="93.86" y1="651.50" x2="93.86" y2="653.90" stroke="#000" stroke-width="0.9" />
<line x1="96.19" y1="651.50" x2="96.19" y2="653.90" stroke="#000" stroke-width="0.9" />
<line x1="98.52" y1="651.50" x2="98.52" y2="653.90" stroke="#000" stroke-width="0.9" />
<line x1="100.85" y1="651.50" x2="100.85" y2="653.90" stroke="#000" stroke-width="0.9" />
<line x1="103.18" y1="651.50" x2="103.18" y2="653.90" stroke="#000" stroke-width="0.9" />
<line x1="105.51" y1="651.50" x2="105.51" y2="653.90" stroke="#000" stroke-width="0.9" />
<line x1="107.84" y1="651.50" x2="107.84" y2="653.90" stroke="#000" stroke-width="0.9" />
<line x1="110.17" y1="651.50" x2="110.17" y2="653.90" stroke="#000" stroke-width="0.9" />
<line x1="112.50" y1="651.50" x2="112.50" y2="653.90" stroke="#000" stroke-width="0.9" />
<line x1="114.83" y1="651.50" x2="114.83" y2="653.90" stroke="#000" stroke-width="0.9" />
<line x1="117.16" y1="651.50" x2="117.16" y2="653.90" stroke="#000" stroke-width="0.9" />
<line x1="119.49" y1="651.50" x2="119.49" y2="653.90" stroke="#000" stroke-width="0.9" />
<line x1="121.82" y1="651.50" x2="121.82" y2="653.90" stroke="#000" stroke-width="0.9" />
<line x1="124.15" y1="651.50" x2="124.15" y2="653.90" stroke="#000" stroke-width="0.9" />
<line x1="126.48" y1="651.50" x2="126.48" y2="653.90" stroke="#000" stroke-width="0.9" />
<line x1="128.81" y1="651.50" x2="128.81" y2="653.90" stroke="#000" stroke-width="0.9" />
<line x1="131.14" y1="651.50" x2="131.14" y2="653.90" stroke="#000" stroke-width="0.9" />
<line x1="133.47" y1="651.50" x2="133.47" y2="653.90" stroke="#000" stroke-width="0.9" />
<line x1="135.80" y1="651.50" x2="135.80" y2="653.90" stroke="#000" stroke-width="0.9" />
<line x1="138.13" y1="651.50" x2="138.13" y2="653.90" stroke="#000" stroke-width="0.9" />
<line x1="140.46" y1="651.50" x2="140.46" y2="653.90" stroke="#000" stroke-width="0.9" />
<line x1="142.79" y1="651.50" x2="142.79" y2="653.90" stroke="#000" stroke-width="0.9" />
<line x1="145.12" y1="651.50" x2="145.12" y2="653.90" stroke="#000" stroke-width="0.9" />
<line x1="147.45" y1="651.50" x2="147.45" y2="653.90" stroke="#000" stroke-width="0.9" />
<line x1="149.78" y1="651.50" x2="149.78" y2="653.90" stroke="#000" stroke-width="0.9" />
<line x1="152.11" y1="651.50" x2="152.11" y2="653.90" stroke="#000" stroke-width="0.9" />
<line x1="154.44" y1="651.50" x2="154.44" y2="653.90" stroke="#000" stroke-width="0.9" />
<line x1="156.77" y1="651.50" x2="156.77" y2="653.90" stroke="#000" stroke-width="0.9" />
<line x1="159.10" y1="651.50" x2="159.10" y2="653.90" stroke="#000" stroke-width="0.9" />
<line x1="161.43" y1="651.50" x2="161.43" y2="653.90" stroke="#000" stroke-width="0.9" />
<line x1="163.76" y1="651.50" x2="163.76" y2="653.90" stroke="#000" stroke-width="0.9" />
<line x1="166.09" y1="651.50" x2="166.09" y2="653.90" stroke="#000" stroke-width="0.9" />
<line x1="168.42" y1="651.50" x2="168.42" y2="653.90" stroke="#000" stroke-width="0.9" />
<line x1="170.75" y1="651.50" x2="170.75" y2="653.90" stroke="#000" stroke-width="0.9" />
<line x1="173.08" y1="651.50" x2="173.08" y2="653.90" stroke="#000" stroke-width="0.9" />
<line x1="175.41" y1="651.50" x2="175.41" y2="653.90" stroke="#000" stroke-width="0.9" />
<line x1="177.74" y1="651.50" x2="177.74" y2="653.90" stroke="#000" stroke-width="0.9" />
<line x1="180.07" y1="651.50" x2="180.07" y2="653.90" stroke="#000" stroke-width="0.9" />
<line x1="182.40" y1="651.50" x2="182.40" y2="653.90" stroke="#000" stroke-width="0.9" />
<line x1="184.73" y1="651.50" x2="184.73" y2="653.90" stroke="#000" stroke-width="0.9" />
<line x1="95.50" y1="653.90" x2="95.50" y2="657.40" stroke="#000" stroke-width="1.2" />
<line x1="107.40" y1="653.90" x2="107.40" y2="657.40" stroke="#000" stroke-width="1.2" />
<line x1="119.30" y1="653.90" x2="119.30" y2="657.40" stroke="#000" stroke-width="1.2" />
<line x1="131.30" y1="653.90" x2="131.30" y2="657.40" stroke="#000" stroke-width="1.2" />
<line x1="143.30" y1="653.90" x2="143.30" y2="657.40" stroke="#000" stroke-width="1.2" />
<line x1="155.10" y1="653.90" x2="155.10" y2="657.40" stroke="#000" stroke-width="1.2" />
<line x1="166.80" y1="653.90" x2="166.80" y2="657.40" stroke="#000" stroke-width="1.2" />
<line x1="178.70" y1="653.90" x2="178.70" y2="657.40" stroke="#000" stroke-width="1.2" />
<line x1="86.90" y1="621.90" x2="89.10" y2="621.90" stroke="#000" stroke-width="0.9" />
<line x1="86.90" y1="640.80" x2="89.10" y2="640.80" stroke="#000" stroke-width="0.9" />
<line x1="86.90" y1="612.80" x2="89.90" y2="612.80" stroke="#000" stroke-width="1.1" />
<text x="84.30000000000001" y="615.4" font-size="7.2" font-weight="bold" text-anchor="end" >10</text>
<line x1="86.90" y1="631.50" x2="89.90" y2="631.50" stroke="#000" stroke-width="1.1" />
<text x="84.30000000000001" y="634.1" font-size="7.2" font-weight="bold" text-anchor="end" >5</text>
<line x1="86.90" y1="650.20" x2="89.90" y2="650.20" stroke="#000" stroke-width="1.1" />
<text x="84.30000000000001" y="652.8000000000001" font-size="7.2" font-weight="bold" text-anchor="end" >0</text>
<text x="95.5" y="664.6999999999999" font-size="6.9" font-weight="bold" text-anchor="middle" >7,600</text>
<text x="119.3" y="664.6999999999999" font-size="6.9" font-weight="bold" text-anchor="middle" >7,600</text>
<text x="143.3" y="664.6999999999999" font-size="6.9" font-weight="bold" text-anchor="middle" >7,600</text>
<text x="166.8" y="664.6999999999999" font-size="6.9" font-weight="bold" text-anchor="middle" >7,600</text>
<rect x="86.90" y="600.90" width="100.70" height="53.00" fill="none" stroke="#000" stroke-width="1.6"/>
<text x="137.05" y="674.5" font-size="8.6" stroke="#000" stroke-width="0.3" font-weight="bold" text-anchor="middle" textLength="19.2" lengthAdjust="spacingAndGlyphs" >Mass</text>
<text transform="translate(73.4,626.4) rotate(-90)" x="0" y="0" font-size="7.8" font-weight="bold" stroke="#000" stroke-width="0.3" text-anchor="middle" textLength="31.0" lengthAdjust="spacingAndGlyphs">Intensity</text>
<line x1="306.10" y1="601.90" x2="306.10" y2="655.50" stroke="#dc5060" stroke-width="1.5" stroke-dasharray="1.4,1.0"/>
<line x1="316.10" y1="601.90" x2="316.10" y2="655.50" stroke="#88c8e0" stroke-width="1.5" stroke-dasharray="1.4,1.0"/>
<text x="306.1" y="598.9" font-size="5.8" stroke="#000" stroke-width="0.2" font-weight="bold" text-anchor="middle" >G</text>
<text x="316.1" y="598.9" font-size="5.8" stroke="#000" stroke-width="0.2" font-weight="bold" text-anchor="middle" >T</text>
<path d="M225.50,651.14 L225.90,651.03 L226.30,650.79 L226.70,650.37 L227.10,649.74 L227.50,649.02 L227.90,648.43 L228.30,648.20 L228.70,648.43 L229.10,649.00 L229.50,649.69 L229.90,650.23 L230.30,650.51 L230.70,650.52 L231.10,650.34 L231.50,650.12 L231.90,650.00 L232.30,650.03 L232.70,650.20 L233.10,650.37 L233.50,650.41 L233.90,650.24 L234.30,649.93 L234.70,649.66 L235.10,649.60 L235.50,649.83 L235.90,650.23 L236.30,650.64 L236.70,650.93 L237.10,651.09 L237.50,651.13 L237.90,651.09 L238.30,650.95 L238.70,650.67 L239.10,650.29 L239.50,649.91 L239.90,649.71 L240.30,649.78 L240.70,650.09 L241.10,650.49 L241.50,650.83 L241.90,651.04 L242.30,651.13 L242.70,651.14 L243.10,651.07 L243.50,650.90 L243.90,650.63 L244.30,650.31 L244.70,650.06 L245.10,650.01 L245.50,650.17 L245.90,650.46 L246.30,650.73 L246.70,650.84 L247.10,650.72 L247.50,650.33 L247.90,649.74 L248.30,649.14 L248.70,648.80 L249.10,648.88 L249.50,649.29 L249.90,649.71 L250.30,649.85 L250.70,649.57 L251.10,648.97 L251.50,648.35 L251.90,648.01 L252.30,648.13 L252.70,648.65 L253.10,649.32 L253.50,649.86 L253.90,650.11 L254.30,650.09 L254.70,649.98 L255.10,649.97 L255.50,650.13 L255.90,650.37 L256.30,650.52 L256.70,650.47 L257.10,650.21 L257.50,649.89 L257.90,649.70 L258.30,649.78 L258.70,650.08 L259.10,650.47 L259.50,650.76 L259.90,650.86 L260.30,650.77 L260.70,650.50 L261.10,650.13 L261.50,649.78 L261.90,649.60 L262.30,649.63 L262.70,649.85 L263.10,650.10 L263.50,650.22 L263.90,650.17 L264.30,649.98 L264.70,649.80 L265.10,649.75 L265.50,649.88 L265.90,650.12 L266.30,650.35 L266.70,650.44 L267.10,650.34 L267.50,650.04 L267.90,649.51 L268.30,648.78 L268.70,647.84 L269.10,646.70 L269.50,645.38 L269.90,643.79 L270.30,641.43 L270.70,637.14 L271.10,630.33 L271.50,623.58 L271.90,621.83 L272.30,626.64 L272.70,633.98 L273.10,639.60 L273.50,642.77 L273.90,644.64 L274.30,646.06 L274.70,647.29 L275.10,648.33 L275.50,649.18 L275.90,649.82 L276.30,650.28 L276.70,650.55 L277.10,650.65 L277.50,650.56 L277.90,650.28 L278.30,649.81 L278.70,649.19 L279.10,648.50 L279.50,647.84 L279.90,647.25 L280.30,646.71 L280.70,646.09 L281.10,645.27 L281.50,644.13 L281.90,642.62 L282.30,640.58 L282.70,637.20 L283.10,630.65 L283.50,620.44 L283.90,611.57 L284.30,611.57 L284.70,620.46 L285.10,630.71 L285.50,637.34 L285.90,640.88 L286.30,643.17 L286.70,645.06 L287.10,646.65 L287.50,647.88 L287.90,648.73 L288.30,649.21 L288.70,649.40 L289.10,649.44 L289.50,649.46 L289.90,649.54 L290.30,649.65 L290.70,649.72 L291.10,649.67 L291.50,649.49 L291.90,649.14 L292.30,648.50 L292.70,647.24 L293.10,645.27 L293.50,643.56 L293.90,643.55 L294.30,645.24 L294.70,647.15 L295.10,648.28 L295.50,648.72 L295.90,648.84 L296.30,648.85 L296.70,648.90 L297.10,649.09 L297.50,649.42 L297.90,649.83 L298.30,650.15 L298.70,650.31 L299.10,650.29 L299.50,650.18 L299.90,650.08 L300.30,650.07 L300.70,650.13 L301.10,650.18 L301.50,650.12 L301.90,649.88 L302.30,649.41 L302.70,648.74 L303.10,647.86 L303.50,646.82 L303.90,645.61 L304.30,644.02 L304.70,641.33 L305.10,636.54 L305.50,630.29 L305.90,626.20 L306.30,627.68 L306.70,633.43 L307.10,639.23 L307.50,642.88 L307.90,644.89 L308.30,646.22 L308.70,647.29 L309.10,648.17 L309.50,648.81 L309.90,649.21 L310.30,649.43 L310.70,649.56 L311.10,649.68 L311.50,649.84 L311.90,649.99 L312.30,650.05 L312.70,649.97 L313.10,649.72 L313.50,649.32 L313.90,648.81 L314.30,648.13 L314.70,646.99 L315.10,644.86 L315.50,641.91 L315.90,639.90 L316.30,640.63 L316.70,643.41 L317.10,646.07 L317.50,647.64 L317.90,648.47 L318.30,649.03 L318.70,649.46 L319.10,649.77 L319.50,649.95 L319.90,650.02 L320.30,650.02 L320.70,650.03 L321.10,650.09 L321.50,650.22 L321.90,650.41 L322.30,650.61 L322.70,650.79 L323.10,650.87 L323.50,650.81 L323.90,650.59 L324.30,650.20 L324.70,649.74 L325.10,649.35 L325.50,649.20 L325.90,649.35 L326.30,649.75" fill="none" stroke="#111" stroke-width="1.15" stroke-linejoin="round"/>
<line x1="227.10" y1="651.60" x2="227.10" y2="654.00" stroke="#000" stroke-width="0.9" />
<line x1="229.43" y1="651.60" x2="229.43" y2="654.00" stroke="#000" stroke-width="0.9" />
<line x1="231.76" y1="651.60" x2="231.76" y2="654.00" stroke="#000" stroke-width="0.9" />
<line x1="234.09" y1="651.60" x2="234.09" y2="654.00" stroke="#000" stroke-width="0.9" />
<line x1="236.42" y1="651.60" x2="236.42" y2="654.00" stroke="#000" stroke-width="0.9" />
<line x1="238.75" y1="651.60" x2="238.75" y2="654.00" stroke="#000" stroke-width="0.9" />
<line x1="241.08" y1="651.60" x2="241.08" y2="654.00" stroke="#000" stroke-width="0.9" />
<line x1="243.41" y1="651.60" x2="243.41" y2="654.00" stroke="#000" stroke-width="0.9" />
<line x1="245.74" y1="651.60" x2="245.74" y2="654.00" stroke="#000" stroke-width="0.9" />
<line x1="248.07" y1="651.60" x2="248.07" y2="654.00" stroke="#000" stroke-width="0.9" />
<line x1="250.40" y1="651.60" x2="250.40" y2="654.00" stroke="#000" stroke-width="0.9" />
<line x1="252.73" y1="651.60" x2="252.73" y2="654.00" stroke="#000" stroke-width="0.9" />
<line x1="255.06" y1="651.60" x2="255.06" y2="654.00" stroke="#000" stroke-width="0.9" />
<line x1="257.39" y1="651.60" x2="257.39" y2="654.00" stroke="#000" stroke-width="0.9" />
<line x1="259.72" y1="651.60" x2="259.72" y2="654.00" stroke="#000" stroke-width="0.9" />
<line x1="262.05" y1="651.60" x2="262.05" y2="654.00" stroke="#000" stroke-width="0.9" />
<line x1="264.38" y1="651.60" x2="264.38" y2="654.00" stroke="#000" stroke-width="0.9" />
<line x1="266.71" y1="651.60" x2="266.71" y2="654.00" stroke="#000" stroke-width="0.9" />
<line x1="269.04" y1="651.60" x2="269.04" y2="654.00" stroke="#000" stroke-width="0.9" />
<line x1="271.37" y1="651.60" x2="271.37" y2="654.00" stroke="#000" stroke-width="0.9" />
<line x1="273.70" y1="651.60" x2="273.70" y2="654.00" stroke="#000" stroke-width="0.9" />
<line x1="276.03" y1="651.60" x2="276.03" y2="654.00" stroke="#000" stroke-width="0.9" />
<line x1="278.36" y1="651.60" x2="278.36" y2="654.00" stroke="#000" stroke-width="0.9" />
<line x1="280.69" y1="651.60" x2="280.69" y2="654.00" stroke="#000" stroke-width="0.9" />
<line x1="283.02" y1="651.60" x2="283.02" y2="654.00" stroke="#000" stroke-width="0.9" />
<line x1="285.35" y1="651.60" x2="285.35" y2="654.00" stroke="#000" stroke-width="0.9" />
<line x1="287.68" y1="651.60" x2="287.68" y2="654.00" stroke="#000" stroke-width="0.9" />
<line x1="290.01" y1="651.60" x2="290.01" y2="654.00" stroke="#000" stroke-width="0.9" />
<line x1="292.34" y1="651.60" x2="292.34" y2="654.00" stroke="#000" stroke-width="0.9" />
<line x1="294.67" y1="651.60" x2="294.67" y2="654.00" stroke="#000" stroke-width="0.9" />
<line x1="297.00" y1="651.60" x2="297.00" y2="654.00" stroke="#000" stroke-width="0.9" />
<line x1="299.33" y1="651.60" x2="299.33" y2="654.00" stroke="#000" stroke-width="0.9" />
<line x1="301.66" y1="651.60" x2="301.66" y2="654.00" stroke="#000" stroke-width="0.9" />
<line x1="303.99" y1="651.60" x2="303.99" y2="654.00" stroke="#000" stroke-width="0.9" />
<line x1="306.32" y1="651.60" x2="306.32" y2="654.00" stroke="#000" stroke-width="0.9" />
<line x1="308.65" y1="651.60" x2="308.65" y2="654.00" stroke="#000" stroke-width="0.9" />
<line x1="310.98" y1="651.60" x2="310.98" y2="654.00" stroke="#000" stroke-width="0.9" />
<line x1="313.31" y1="651.60" x2="313.31" y2="654.00" stroke="#000" stroke-width="0.9" />
<line x1="315.64" y1="651.60" x2="315.64" y2="654.00" stroke="#000" stroke-width="0.9" />
<line x1="317.97" y1="651.60" x2="317.97" y2="654.00" stroke="#000" stroke-width="0.9" />
<line x1="320.30" y1="651.60" x2="320.30" y2="654.00" stroke="#000" stroke-width="0.9" />
<line x1="322.63" y1="651.60" x2="322.63" y2="654.00" stroke="#000" stroke-width="0.9" />
<line x1="324.96" y1="651.60" x2="324.96" y2="654.00" stroke="#000" stroke-width="0.9" />
<line x1="233.90" y1="654.00" x2="233.90" y2="657.50" stroke="#000" stroke-width="1.2" />
<line x1="246.50" y1="654.00" x2="246.50" y2="657.50" stroke="#000" stroke-width="1.2" />
<line x1="259.60" y1="654.00" x2="259.60" y2="657.50" stroke="#000" stroke-width="1.2" />
<line x1="271.20" y1="654.00" x2="271.20" y2="657.50" stroke="#000" stroke-width="1.2" />
<line x1="282.70" y1="654.00" x2="282.70" y2="657.50" stroke="#000" stroke-width="1.2" />
<line x1="294.00" y1="654.00" x2="294.00" y2="657.50" stroke="#000" stroke-width="1.2" />
<line x1="305.20" y1="654.00" x2="305.20" y2="657.50" stroke="#000" stroke-width="1.2" />
<line x1="316.60" y1="654.00" x2="316.60" y2="657.50" stroke="#000" stroke-width="1.2" />
<line x1="224.80" y1="614.90" x2="227.00" y2="614.90" stroke="#000" stroke-width="0.9" />
<line x1="224.80" y1="630.90" x2="227.00" y2="630.90" stroke="#000" stroke-width="0.9" />
<line x1="224.80" y1="646.60" x2="227.00" y2="646.60" stroke="#000" stroke-width="0.9" />
<line x1="224.80" y1="606.90" x2="227.80" y2="606.90" stroke="#000" stroke-width="1.1" />
<text x="222.20000000000002" y="609.5" font-size="7.2" font-weight="bold" text-anchor="end" >30</text>
<line x1="224.80" y1="623.00" x2="227.80" y2="623.00" stroke="#000" stroke-width="1.1" />
<text x="222.20000000000002" y="625.6" font-size="7.2" font-weight="bold" text-anchor="end" >20</text>
<line x1="224.80" y1="638.80" x2="227.80" y2="638.80" stroke="#000" stroke-width="1.1" />
<text x="222.20000000000002" y="641.4" font-size="7.2" font-weight="bold" text-anchor="end" >10</text>
<line x1="224.80" y1="654.40" x2="227.80" y2="654.40" stroke="#000" stroke-width="1.1" />
<text x="222.20000000000002" y="657.0" font-size="7.2" font-weight="bold" text-anchor="end" >0</text>
<text x="233.9" y="664.8" font-size="6.9" font-weight="bold" text-anchor="middle" >6,200</text>
<text x="259.6" y="664.8" font-size="6.9" font-weight="bold" text-anchor="middle" >6,300</text>
<text x="282.7" y="664.8" font-size="6.9" font-weight="bold" text-anchor="middle" >6,400</text>
<text x="305.2" y="664.8" font-size="6.9" font-weight="bold" text-anchor="middle" >6,500</text>
<rect x="224.80" y="600.90" width="102.50" height="53.10" fill="none" stroke="#000" stroke-width="1.6"/>
<text x="275.85" y="674.6" font-size="8.6" stroke="#000" stroke-width="0.3" font-weight="bold" text-anchor="middle" textLength="19.2" lengthAdjust="spacingAndGlyphs" >Mass</text>
<text transform="translate(211.9,626.45) rotate(-90)" x="0" y="0" font-size="7.8" font-weight="bold" stroke="#000" stroke-width="0.3" text-anchor="middle" textLength="31.0" lengthAdjust="spacingAndGlyphs">Intensity</text>
<line x1="435.50" y1="601.90" x2="435.50" y2="655.70" stroke="#dc5060" stroke-width="1.5" stroke-dasharray="1.4,1.0"/>
<line x1="454.50" y1="601.90" x2="454.50" y2="655.70" stroke="#88c8e0" stroke-width="1.5" stroke-dasharray="1.4,1.0"/>
<text x="435.5" y="598.9" font-size="5.8" stroke="#000" stroke-width="0.2" font-weight="bold" text-anchor="middle" >G</text>
<text x="454.5" y="598.9" font-size="5.8" stroke="#000" stroke-width="0.2" font-weight="bold" text-anchor="middle" >A</text>
<path d="M366.00,639.39 L366.40,639.59 L366.80,639.56 L367.20,639.20 L367.60,638.80 L368.00,638.84 L368.40,639.59 L368.80,640.88 L369.20,642.20 L369.60,643.14 L370.00,643.47 L370.40,643.15 L370.80,642.25 L371.20,640.99 L371.60,639.86 L372.00,639.40 L372.40,639.85 L372.80,640.96 L373.20,642.17 L373.60,642.97 L374.00,643.20 L374.40,643.03 L374.80,642.81 L375.20,642.84 L375.60,643.17 L376.00,643.61 L376.40,643.98 L376.80,644.18 L377.20,644.27 L377.60,644.29 L378.00,644.30 L378.40,644.30 L378.80,644.30 L379.20,644.29 L379.60,644.24 L380.00,644.12 L380.40,643.81 L380.80,643.23 L381.20,642.36 L381.60,641.42 L382.00,640.79 L382.40,640.79 L382.80,641.42 L383.20,642.36 L383.60,643.22 L384.00,643.80 L384.40,644.09 L384.80,644.19 L385.20,644.20 L385.60,644.16 L386.00,644.09 L386.40,644.02 L386.80,643.94 L387.20,643.87 L387.60,643.82 L388.00,643.80 L388.40,643.81 L388.80,643.86 L389.20,643.92 L389.60,643.98 L390.00,644.02 L390.40,644.03 L390.80,643.98 L391.20,643.86 L391.60,643.63 L392.00,643.28 L392.40,642.77 L392.80,642.09 L393.20,641.22 L393.60,640.18 L394.00,638.97 L394.40,637.52 L394.80,635.36 L395.20,631.42 L395.60,625.19 L396.00,619.01 L396.40,617.41 L396.80,621.81 L397.20,628.54 L397.60,633.68 L398.00,636.58 L398.40,638.29 L398.80,639.59 L399.20,640.72 L399.60,641.68 L400.00,642.46 L400.40,643.05 L400.80,643.49 L401.20,643.79 L401.60,643.96 L402.00,644.01 L402.40,643.87 L402.80,643.45 L403.20,642.63 L403.60,641.42 L404.00,640.01 L404.40,638.85 L404.80,638.40 L405.20,638.85 L405.60,640.01 L406.00,641.42 L406.40,642.63 L406.80,643.40 L407.20,643.70 L407.60,643.65 L408.00,643.44 L408.40,643.30 L408.80,643.37 L409.20,643.62 L409.60,643.91 L410.00,644.13 L410.40,644.24 L410.80,644.28 L411.20,644.29 L411.60,644.28 L412.00,644.22 L412.40,644.06 L412.80,643.68 L413.20,643.00 L413.60,642.06 L414.00,641.13 L414.40,640.62 L414.80,640.80 L415.20,641.57 L415.60,642.54 L416.00,643.37 L416.40,643.86 L416.80,644.01 L417.20,643.87 L417.60,643.43 L418.00,642.73 L418.40,641.98 L418.80,641.47 L419.20,641.47 L419.60,641.98 L420.00,642.74 L420.40,643.44 L420.80,643.91 L421.20,644.15 L421.60,644.26 L422.00,644.29 L422.40,644.30 L422.80,644.30 L423.20,644.30 L423.60,644.30 L424.00,644.30 L424.40,644.30 L424.80,644.30 L425.20,644.30 L425.60,644.30 L426.00,644.30 L426.40,644.30 L426.80,644.30 L427.20,644.30 L427.60,644.30 L428.00,644.30 L428.40,644.30 L428.80,644.29 L429.20,644.28 L429.60,644.26 L430.00,644.23 L430.40,644.17 L430.80,644.08 L431.20,643.94 L431.60,643.72 L432.00,643.42 L432.40,643.01 L432.80,642.50 L433.20,641.90 L433.60,641.20 L434.00,640.26 L434.40,638.61 L434.80,635.66 L435.20,632.05 L435.60,630.30 L436.00,632.05 L436.40,635.66 L436.80,638.61 L437.20,640.26 L437.60,641.19 L438.00,641.89 L438.40,642.47 L438.80,642.89 L439.20,643.07 L439.60,642.88 L440.00,642.25 L440.40,641.32 L440.80,640.46 L441.20,640.12 L441.60,640.52 L442.00,641.45 L442.40,642.47 L442.80,643.21 L443.20,643.59 L443.60,643.72 L444.00,643.77 L444.40,643.83 L444.80,643.94 L445.20,644.06 L445.60,644.16 L446.00,644.23 L446.40,644.27 L446.80,644.29 L447.20,644.29 L447.60,644.29 L448.00,644.28 L448.40,644.26 L448.80,644.23 L449.20,644.17 L449.60,644.07 L450.00,643.91 L450.40,643.67 L450.80,643.33 L451.20,642.87 L451.60,642.28 L452.00,641.58 L452.40,640.76 L452.80,639.73 L453.20,638.02 L453.60,634.85 L454.00,630.45 L454.40,627.45 L454.80,628.54 L455.20,632.69 L455.60,636.65 L456.00,639.00 L456.40,640.29 L456.80,641.18 L457.20,641.94 L457.60,642.59 L458.00,643.10 L458.40,643.44 L458.80,643.56 L459.20,643.36 L459.60,642.72 L460.00,641.66 L460.40,640.47 L460.80,639.63 L461.20,639.50 L461.60,639.96 L462.00,640.44 L462.40,640.39 L462.80,639.75 L463.20,639.04 L463.60,638.94 L464.00,639.65 L464.40,640.81 L464.80,641.78" fill="none" stroke="#111" stroke-width="1.15" stroke-linejoin="round"/>
<line x1="367.60" y1="651.80" x2="367.60" y2="654.20" stroke="#000" stroke-width="0.9" />
<line x1="369.93" y1="651.80" x2="369.93" y2="654.20" stroke="#000" stroke-width="0.9" />
<line x1="372.26" y1="651.80" x2="372.26" y2="654.20" stroke="#000" stroke-width="0.9" />
<line x1="374.59" y1="651.80" x2="374.59" y2="654.20" stroke="#000" stroke-width="0.9" />
<line x1="376.92" y1="651.80" x2="376.92" y2="654.20" stroke="#000" stroke-width="0.9" />
<line x1="379.25" y1="651.80" x2="379.25" y2="654.20" stroke="#000" stroke-width="0.9" />
<line x1="381.58" y1="651.80" x2="381.58" y2="654.20" stroke="#000" stroke-width="0.9" />
<line x1="383.91" y1="651.80" x2="383.91" y2="654.20" stroke="#000" stroke-width="0.9" />
<line x1="386.24" y1="651.80" x2="386.24" y2="654.20" stroke="#000" stroke-width="0.9" />
<line x1="388.57" y1="651.80" x2="388.57" y2="654.20" stroke="#000" stroke-width="0.9" />
<line x1="390.90" y1="651.80" x2="390.90" y2="654.20" stroke="#000" stroke-width="0.9" />
<line x1="393.23" y1="651.80" x2="393.23" y2="654.20" stroke="#000" stroke-width="0.9" />
<line x1="395.56" y1="651.80" x2="395.56" y2="654.20" stroke="#000" stroke-width="0.9" />
<line x1="397.89" y1="651.80" x2="397.89" y2="654.20" stroke="#000" stroke-width="0.9" />
<line x1="400.22" y1="651.80" x2="400.22" y2="654.20" stroke="#000" stroke-width="0.9" />
<line x1="402.55" y1="651.80" x2="402.55" y2="654.20" stroke="#000" stroke-width="0.9" />
<line x1="404.88" y1="651.80" x2="404.88" y2="654.20" stroke="#000" stroke-width="0.9" />
<line x1="407.21" y1="651.80" x2="407.21" y2="654.20" stroke="#000" stroke-width="0.9" />
<line x1="409.54" y1="651.80" x2="409.54" y2="654.20" stroke="#000" stroke-width="0.9" />
<line x1="411.87" y1="651.80" x2="411.87" y2="654.20" stroke="#000" stroke-width="0.9" />
<line x1="414.20" y1="651.80" x2="414.20" y2="654.20" stroke="#000" stroke-width="0.9" />
<line x1="416.53" y1="651.80" x2="416.53" y2="654.20" stroke="#000" stroke-width="0.9" />
<line x1="418.86" y1="651.80" x2="418.86" y2="654.20" stroke="#000" stroke-width="0.9" />
<line x1="421.19" y1="651.80" x2="421.19" y2="654.20" stroke="#000" stroke-width="0.9" />
<line x1="423.52" y1="651.80" x2="423.52" y2="654.20" stroke="#000" stroke-width="0.9" />
<line x1="425.85" y1="651.80" x2="425.85" y2="654.20" stroke="#000" stroke-width="0.9" />
<line x1="428.18" y1="651.80" x2="428.18" y2="654.20" stroke="#000" stroke-width="0.9" />
<line x1="430.51" y1="651.80" x2="430.51" y2="654.20" stroke="#000" stroke-width="0.9" />
<line x1="432.84" y1="651.80" x2="432.84" y2="654.20" stroke="#000" stroke-width="0.9" />
<line x1="435.17" y1="651.80" x2="435.17" y2="654.20" stroke="#000" stroke-width="0.9" />
<line x1="437.50" y1="651.80" x2="437.50" y2="654.20" stroke="#000" stroke-width="0.9" />
<line x1="439.83" y1="651.80" x2="439.83" y2="654.20" stroke="#000" stroke-width="0.9" />
<line x1="442.16" y1="651.80" x2="442.16" y2="654.20" stroke="#000" stroke-width="0.9" />
<line x1="444.49" y1="651.80" x2="444.49" y2="654.20" stroke="#000" stroke-width="0.9" />
<line x1="446.82" y1="651.80" x2="446.82" y2="654.20" stroke="#000" stroke-width="0.9" />
<line x1="449.15" y1="651.80" x2="449.15" y2="654.20" stroke="#000" stroke-width="0.9" />
<line x1="451.48" y1="651.80" x2="451.48" y2="654.20" stroke="#000" stroke-width="0.9" />
<line x1="453.81" y1="651.80" x2="453.81" y2="654.20" stroke="#000" stroke-width="0.9" />
<line x1="456.14" y1="651.80" x2="456.14" y2="654.20" stroke="#000" stroke-width="0.9" />
<line x1="458.47" y1="651.80" x2="458.47" y2="654.20" stroke="#000" stroke-width="0.9" />
<line x1="460.80" y1="651.80" x2="460.80" y2="654.20" stroke="#000" stroke-width="0.9" />
<line x1="463.13" y1="651.80" x2="463.13" y2="654.20" stroke="#000" stroke-width="0.9" />
<line x1="374.40" y1="654.20" x2="374.40" y2="657.70" stroke="#000" stroke-width="1.2" />
<line x1="386.10" y1="654.20" x2="386.10" y2="657.70" stroke="#000" stroke-width="1.2" />
<line x1="397.80" y1="654.20" x2="397.80" y2="657.70" stroke="#000" stroke-width="1.2" />
<line x1="409.50" y1="654.20" x2="409.50" y2="657.70" stroke="#000" stroke-width="1.2" />
<line x1="421.20" y1="654.20" x2="421.20" y2="657.70" stroke="#000" stroke-width="1.2" />
<line x1="432.90" y1="654.20" x2="432.90" y2="657.70" stroke="#000" stroke-width="1.2" />
<line x1="444.60" y1="654.20" x2="444.60" y2="657.70" stroke="#000" stroke-width="1.2" />
<line x1="456.30" y1="654.20" x2="456.30" y2="657.70" stroke="#000" stroke-width="1.2" />
<line x1="365.30" y1="612.50" x2="367.50" y2="612.50" stroke="#000" stroke-width="0.9" />
<line x1="365.30" y1="628.60" x2="367.50" y2="628.60" stroke="#000" stroke-width="0.9" />
<line x1="365.30" y1="644.30" x2="367.50" y2="644.30" stroke="#000" stroke-width="0.9" />
<line x1="365.30" y1="604.30" x2="368.30" y2="604.30" stroke="#000" stroke-width="1.1" />
<text x="362.7" y="606.9" font-size="7.2" font-weight="bold" text-anchor="end" >15</text>
<line x1="365.30" y1="620.60" x2="368.30" y2="620.60" stroke="#000" stroke-width="1.1" />
<text x="362.7" y="623.2" font-size="7.2" font-weight="bold" text-anchor="end" >10</text>
<line x1="365.30" y1="636.70" x2="368.30" y2="636.70" stroke="#000" stroke-width="1.1" />
<text x="362.7" y="639.3000000000001" font-size="7.2" font-weight="bold" text-anchor="end" >5</text>
<line x1="365.30" y1="651.80" x2="368.30" y2="651.80" stroke="#000" stroke-width="1.1" />
<text x="362.7" y="654.4" font-size="7.2" font-weight="bold" text-anchor="end" >0</text>
<text x="373.6" y="665.0" font-size="6.9" font-weight="bold" text-anchor="middle" >7,600</text>
<text x="396.9" y="665.0" font-size="6.9" font-weight="bold" text-anchor="middle" >7,700</text>
<text x="420.3" y="665.0" font-size="6.9" font-weight="bold" text-anchor="middle" >7,800</text>
<text x="443.6" y="665.0" font-size="6.9" font-weight="bold" text-anchor="middle" >7,900</text>
<rect x="365.30" y="600.90" width="100.50" height="53.30" fill="none" stroke="#000" stroke-width="1.6"/>
<text x="415.35" y="674.8000000000001" font-size="8.6" stroke="#000" stroke-width="0.3" font-weight="bold" text-anchor="middle" textLength="19.2" lengthAdjust="spacingAndGlyphs" >Mass</text>
<text transform="translate(352.0,626.55) rotate(-90)" x="0" y="0" font-size="7.8" font-weight="bold" stroke="#000" stroke-width="0.3" text-anchor="middle" textLength="31.0" lengthAdjust="spacingAndGlyphs">Intensity</text>
</svg>
</div></body></html>
